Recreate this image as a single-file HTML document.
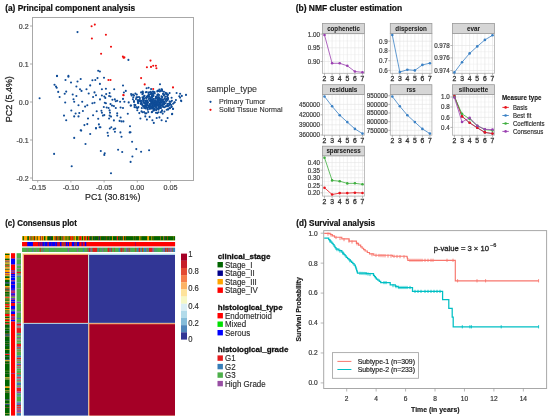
<!DOCTYPE html><html><head><meta charset="utf-8"><style>html,body{margin:0;padding:0;background:#fff;overflow:hidden}svg{display:block}text{font-family:"Liberation Sans",sans-serif}</style></head><body>
<svg width="550" height="418" viewBox="0 0 550 418" style="will-change:transform">
<rect width="550" height="418" fill="#fff"/>
<text x="5.2" y="10.9" font-size="9.0" fill="#111" text-anchor="start" font-weight="bold" textLength="130" lengthAdjust="spacingAndGlyphs" stroke="#111" stroke-width="0.22">(a) Principal component analysis</text>
<rect x="32.5" y="17.5" width="161" height="163" fill="#fff" stroke="#a8a8a8" stroke-width="1"/>
<line x1="30" y1="26.0" x2="32.5" y2="26.0" stroke="#999" stroke-width="0.8"/>
<text x="28.6" y="28.5" font-size="7" fill="#404040" text-anchor="end" stroke="#404040" stroke-width="0.18">0.2</text>
<line x1="30" y1="64.0" x2="32.5" y2="64.0" stroke="#999" stroke-width="0.8"/>
<text x="28.6" y="66.5" font-size="7" fill="#404040" text-anchor="end" stroke="#404040" stroke-width="0.18">0.1</text>
<line x1="30" y1="102.0" x2="32.5" y2="102.0" stroke="#999" stroke-width="0.8"/>
<text x="28.6" y="104.5" font-size="7" fill="#404040" text-anchor="end" stroke="#404040" stroke-width="0.18">0.0</text>
<line x1="30" y1="140.0" x2="32.5" y2="140.0" stroke="#999" stroke-width="0.8"/>
<text x="28.6" y="142.5" font-size="7" fill="#404040" text-anchor="end" stroke="#404040" stroke-width="0.18">-0.1</text>
<line x1="30" y1="178.0" x2="32.5" y2="178.0" stroke="#999" stroke-width="0.8"/>
<text x="28.6" y="180.5" font-size="7" fill="#404040" text-anchor="end" stroke="#404040" stroke-width="0.18">-0.2</text>
<line x1="37.7" y1="180.5" x2="37.7" y2="182.5" stroke="#999" stroke-width="0.8"/>
<text x="37.7" y="190.0" font-size="7.2" fill="#404040" text-anchor="middle" stroke="#404040" stroke-width="0.18">-0.15</text>
<line x1="70.9" y1="180.5" x2="70.9" y2="182.5" stroke="#999" stroke-width="0.8"/>
<text x="70.9" y="190.0" font-size="7.2" fill="#404040" text-anchor="middle" stroke="#404040" stroke-width="0.18">-0.10</text>
<line x1="104.1" y1="180.5" x2="104.1" y2="182.5" stroke="#999" stroke-width="0.8"/>
<text x="104.1" y="190.0" font-size="7.2" fill="#404040" text-anchor="middle" stroke="#404040" stroke-width="0.18">-0.05</text>
<line x1="137.3" y1="180.5" x2="137.3" y2="182.5" stroke="#999" stroke-width="0.8"/>
<text x="137.3" y="190.0" font-size="7.2" fill="#404040" text-anchor="middle" stroke="#404040" stroke-width="0.18">0.00</text>
<line x1="170.5" y1="180.5" x2="170.5" y2="182.5" stroke="#999" stroke-width="0.8"/>
<text x="170.5" y="190.0" font-size="7.2" fill="#404040" text-anchor="middle" stroke="#404040" stroke-width="0.18">0.05</text>
<text x="85" y="199.7" font-size="8.8" fill="#222" text-anchor="start" textLength="55.4" lengthAdjust="spacingAndGlyphs" stroke="#222" stroke-width="0.18">PC1 (30.81%)</text>
<text x="0" y="0" font-size="8.9" fill="#222" textLength="46" lengthAdjust="spacingAndGlyphs" stroke="#222" stroke-width="0.28" transform="translate(11.8 122.2) rotate(-90)">PC2 (5.4%)</text>
<text x="206.8" y="92.4" font-size="8.85" fill="#333" text-anchor="start" textLength="50.2" lengthAdjust="spacingAndGlyphs" stroke="#333" stroke-width="0.1">sample_type</text>
<text x="218.9" y="104.0" font-size="7.1" fill="#333" text-anchor="start" textLength="46.6" lengthAdjust="spacingAndGlyphs" stroke="#333" stroke-width="0.12">Primary Tumor</text>
<text x="218.9" y="111.7" font-size="7.1" fill="#333" text-anchor="start" textLength="63.7" lengthAdjust="spacingAndGlyphs" stroke="#333" stroke-width="0.12">Solid Tissue Normal</text>
<circle cx="210.5" cy="101.8" r="1.1" fill="#0f4c97"/>
<circle cx="210.5" cy="109.8" r="1.1" fill="#f00d0d"/>
<g fill="#0f4c97">
<circle cx="77.5" cy="32.1" r="1.05"/>
<circle cx="98.2" cy="70.8" r="1.05"/>
<circle cx="99.9" cy="71.5" r="1.05"/>
<circle cx="57.0" cy="75.9" r="1.05"/>
<circle cx="68.4" cy="75.9" r="1.05"/>
<circle cx="128.4" cy="59.9" r="1.05"/>
<circle cx="57.0" cy="76.1" r="1.05"/>
<circle cx="68.4" cy="76.7" r="1.05"/>
<circle cx="65.5" cy="80.0" r="1.05"/>
<circle cx="71.0" cy="82.5" r="1.05"/>
<circle cx="77.5" cy="81.5" r="1.05"/>
<circle cx="80.7" cy="79.0" r="1.05"/>
<circle cx="54.5" cy="84.8" r="1.05"/>
<circle cx="56.0" cy="86.5" r="1.05"/>
<circle cx="56.7" cy="87.7" r="1.05"/>
<circle cx="58.2" cy="91.9" r="1.05"/>
<circle cx="64.7" cy="93.8" r="1.05"/>
<circle cx="66.2" cy="91.6" r="1.05"/>
<circle cx="59.6" cy="97.0" r="1.05"/>
<circle cx="39.6" cy="98.2" r="1.05"/>
<circle cx="72.7" cy="94.5" r="1.05"/>
<circle cx="76.4" cy="86.5" r="1.05"/>
<circle cx="80.0" cy="89.2" r="1.05"/>
<circle cx="81.5" cy="90.9" r="1.05"/>
<circle cx="76.4" cy="96.0" r="1.05"/>
<circle cx="73.5" cy="99.3" r="1.05"/>
<circle cx="74.2" cy="101.8" r="1.05"/>
<circle cx="82.2" cy="101.8" r="1.05"/>
<circle cx="65.2" cy="102.5" r="1.05"/>
<circle cx="86.5" cy="89.2" r="1.05"/>
<circle cx="88.7" cy="93.5" r="1.05"/>
<circle cx="90.2" cy="85.4" r="1.05"/>
<circle cx="92.4" cy="80.3" r="1.05"/>
<circle cx="95.3" cy="80.0" r="1.05"/>
<circle cx="97.5" cy="78.1" r="1.05"/>
<circle cx="104.0" cy="77.8" r="1.05"/>
<circle cx="99.9" cy="83.9" r="1.05"/>
<circle cx="94.5" cy="92.4" r="1.05"/>
<circle cx="96.0" cy="95.3" r="1.05"/>
<circle cx="93.1" cy="97.0" r="1.05"/>
<circle cx="87.3" cy="105.2" r="1.05"/>
<circle cx="78.5" cy="105.2" r="1.05"/>
<circle cx="85.1" cy="106.6" r="1.05"/>
<circle cx="71.3" cy="110.5" r="1.05"/>
<circle cx="75.6" cy="113.5" r="1.05"/>
<circle cx="79.3" cy="113.0" r="1.05"/>
<circle cx="82.9" cy="111.0" r="1.05"/>
<circle cx="92.4" cy="103.3" r="1.05"/>
<circle cx="94.5" cy="102.8" r="1.05"/>
<circle cx="96.7" cy="111.3" r="1.05"/>
<circle cx="93.1" cy="115.3" r="1.05"/>
<circle cx="98.2" cy="118.8" r="1.05"/>
<circle cx="64.0" cy="115.6" r="1.05"/>
<circle cx="66.2" cy="120.3" r="1.05"/>
<circle cx="74.2" cy="116.4" r="1.05"/>
<circle cx="78.5" cy="116.4" r="1.05"/>
<circle cx="88.0" cy="118.5" r="1.05"/>
<circle cx="84.4" cy="125.1" r="1.05"/>
<circle cx="87.3" cy="124.1" r="1.05"/>
<circle cx="96.0" cy="128.0" r="1.05"/>
<circle cx="98.9" cy="124.4" r="1.05"/>
<circle cx="100.4" cy="127.3" r="1.05"/>
<circle cx="80.7" cy="130.2" r="1.05"/>
<circle cx="111.3" cy="127.3" r="1.05"/>
<circle cx="81.2" cy="130.6" r="1.05"/>
<circle cx="96.0" cy="128.5" r="1.05"/>
<circle cx="99.6" cy="127.3" r="1.05"/>
<circle cx="109.8" cy="128.5" r="1.05"/>
<circle cx="74.2" cy="137.9" r="1.05"/>
<circle cx="90.2" cy="134.0" r="1.05"/>
<circle cx="107.6" cy="132.8" r="1.05"/>
<circle cx="108.1" cy="135.7" r="1.05"/>
<circle cx="85.5" cy="144.0" r="1.05"/>
<circle cx="54.1" cy="153.9" r="1.05"/>
<circle cx="100.8" cy="151.0" r="1.05"/>
<circle cx="104.7" cy="153.2" r="1.05"/>
<circle cx="104.3" cy="154.9" r="1.05"/>
<circle cx="71.7" cy="166.3" r="1.05"/>
<circle cx="111.0" cy="173.3" r="1.05"/>
<circle cx="113.7" cy="129.2" r="1.05"/>
<circle cx="115.2" cy="128.5" r="1.05"/>
<circle cx="114.9" cy="131.8" r="1.05"/>
<circle cx="120.4" cy="132.4" r="1.05"/>
<circle cx="129.7" cy="132.4" r="1.05"/>
<circle cx="121.5" cy="136.7" r="1.05"/>
<circle cx="132.1" cy="141.8" r="1.05"/>
<circle cx="118.1" cy="149.8" r="1.05"/>
<circle cx="122.2" cy="152.0" r="1.05"/>
<circle cx="136.3" cy="149.1" r="1.05"/>
<circle cx="141.1" cy="151.7" r="1.05"/>
<circle cx="149.1" cy="150.3" r="1.05"/>
<circle cx="132.4" cy="156.5" r="1.05"/>
<circle cx="130.6" cy="161.9" r="1.05"/>
<circle cx="139.3" cy="113.1" r="1.05"/>
<circle cx="140.4" cy="118.5" r="1.05"/>
<circle cx="145.3" cy="116.4" r="1.05"/>
<circle cx="146.9" cy="119.6" r="1.05"/>
<circle cx="149.6" cy="116.9" r="1.05"/>
<circle cx="152.4" cy="120.2" r="1.05"/>
<circle cx="153.8" cy="122.9" r="1.05"/>
<circle cx="156.7" cy="118.0" r="1.05"/>
<circle cx="159.4" cy="117.4" r="1.05"/>
<circle cx="161.6" cy="120.2" r="1.05"/>
<circle cx="166.0" cy="121.3" r="1.05"/>
<circle cx="167.6" cy="118.0" r="1.05"/>
<circle cx="172.0" cy="114.2" r="1.05"/>
<circle cx="162.7" cy="113.6" r="1.05"/>
<circle cx="157.3" cy="113.1" r="1.05"/>
<circle cx="173.1" cy="108.7" r="1.05"/>
<circle cx="181.3" cy="101.1" r="1.05"/>
<circle cx="174.7" cy="102.2" r="1.05"/>
<circle cx="130.0" cy="126.2" r="1.05"/>
<circle cx="130.5" cy="132.2" r="1.05"/>
<circle cx="134.4" cy="104.9" r="1.05"/>
<circle cx="131.1" cy="105.5" r="1.05"/>
<circle cx="160.0" cy="84.2" r="1.05"/>
<circle cx="162.1" cy="90.9" r="1.05"/>
<circle cx="176.6" cy="93.0" r="1.05"/>
<circle cx="180.1" cy="93.8" r="1.05"/>
<circle cx="186.0" cy="94.9" r="1.05"/>
<circle cx="179.3" cy="96.3" r="1.05"/>
<circle cx="181.8" cy="95.9" r="1.05"/>
<circle cx="180.1" cy="97.6" r="1.05"/>
<circle cx="181.0" cy="100.5" r="1.05"/>
<circle cx="175.9" cy="100.1" r="1.05"/>
<circle cx="174.3" cy="102.6" r="1.05"/>
<circle cx="170.1" cy="103.8" r="1.05"/>
<circle cx="171.8" cy="106.8" r="1.05"/>
<circle cx="173.0" cy="108.9" r="1.05"/>
<circle cx="172.2" cy="113.9" r="1.05"/>
<circle cx="166.7" cy="109.7" r="1.05"/>
<circle cx="101.9" cy="89.3" r="1.05"/>
<circle cx="105.9" cy="88.8" r="1.05"/>
<circle cx="114.2" cy="89.3" r="1.05"/>
<circle cx="123.0" cy="85.5" r="1.05"/>
<circle cx="125.8" cy="90.9" r="1.05"/>
<circle cx="123.9" cy="92.5" r="1.05"/>
<circle cx="123.0" cy="98.9" r="1.05"/>
<circle cx="124.4" cy="101.7" r="1.05"/>
<circle cx="120.1" cy="101.7" r="1.05"/>
<circle cx="128.7" cy="102.4" r="1.05"/>
<circle cx="101.9" cy="95.5" r="1.05"/>
<circle cx="104.3" cy="96.5" r="1.05"/>
<circle cx="105.3" cy="97.9" r="1.05"/>
<circle cx="106.2" cy="94.1" r="1.05"/>
<circle cx="109.6" cy="93.1" r="1.05"/>
<circle cx="109.1" cy="96.0" r="1.05"/>
<circle cx="110.5" cy="96.5" r="1.05"/>
<circle cx="112.4" cy="99.8" r="1.05"/>
<circle cx="114.8" cy="99.4" r="1.05"/>
<circle cx="115.8" cy="101.3" r="1.05"/>
<circle cx="117.2" cy="100.8" r="1.05"/>
<circle cx="104.8" cy="102.7" r="1.05"/>
<circle cx="105.9" cy="103.2" r="1.05"/>
<circle cx="110.5" cy="104.1" r="1.05"/>
<circle cx="112.0" cy="105.6" r="1.05"/>
<circle cx="113.9" cy="106.1" r="1.05"/>
<circle cx="115.8" cy="108.0" r="1.05"/>
<circle cx="103.8" cy="107.0" r="1.05"/>
<circle cx="106.7" cy="107.5" r="1.05"/>
<circle cx="108.6" cy="108.0" r="1.05"/>
<circle cx="120.6" cy="107.5" r="1.05"/>
<circle cx="123.0" cy="108.0" r="1.05"/>
<circle cx="130.6" cy="105.6" r="1.05"/>
<circle cx="135.4" cy="105.1" r="1.05"/>
<circle cx="136.4" cy="107.5" r="1.05"/>
<circle cx="101.4" cy="110.8" r="1.05"/>
<circle cx="101.9" cy="112.8" r="1.05"/>
<circle cx="109.6" cy="110.4" r="1.05"/>
<circle cx="110.0" cy="112.8" r="1.05"/>
<circle cx="117.2" cy="113.2" r="1.05"/>
<circle cx="127.8" cy="113.7" r="1.05"/>
<circle cx="102.9" cy="115.6" r="1.05"/>
<circle cx="104.3" cy="115.1" r="1.05"/>
<circle cx="109.6" cy="115.6" r="1.05"/>
<circle cx="111.0" cy="116.6" r="1.05"/>
<circle cx="109.1" cy="118.5" r="1.05"/>
<circle cx="117.2" cy="115.6" r="1.05"/>
<circle cx="120.6" cy="117.5" r="1.05"/>
<circle cx="113.9" cy="120.4" r="1.05"/>
<circle cx="119.6" cy="120.9" r="1.05"/>
<circle cx="121.5" cy="121.4" r="1.05"/>
<circle cx="123.4" cy="121.4" r="1.05"/>
<circle cx="131.1" cy="94.1" r="1.05"/>
<circle cx="133.0" cy="94.6" r="1.05"/>
<circle cx="135.4" cy="93.6" r="1.05"/>
<circle cx="136.8" cy="94.6" r="1.05"/>
<circle cx="131.6" cy="95.5" r="1.05"/>
<circle cx="100.0" cy="99.4" r="1.05"/>
<circle cx="150.4" cy="105.0" r="1.05"/>
<circle cx="150.7" cy="99.4" r="1.05"/>
<circle cx="143.7" cy="100.0" r="1.05"/>
<circle cx="164.1" cy="104.4" r="1.05"/>
<circle cx="163.4" cy="103.2" r="1.05"/>
<circle cx="156.9" cy="102.8" r="1.05"/>
<circle cx="136.3" cy="107.3" r="1.05"/>
<circle cx="158.1" cy="104.9" r="1.05"/>
<circle cx="144.1" cy="98.3" r="1.05"/>
<circle cx="156.1" cy="101.2" r="1.05"/>
<circle cx="158.2" cy="97.1" r="1.05"/>
<circle cx="156.1" cy="104.2" r="1.05"/>
<circle cx="146.4" cy="113.2" r="1.05"/>
<circle cx="158.6" cy="109.6" r="1.05"/>
<circle cx="146.8" cy="96.5" r="1.05"/>
<circle cx="149.6" cy="100.8" r="1.05"/>
<circle cx="159.3" cy="103.2" r="1.05"/>
<circle cx="148.5" cy="95.0" r="1.05"/>
<circle cx="147.8" cy="109.8" r="1.05"/>
<circle cx="144.9" cy="103.2" r="1.05"/>
<circle cx="157.3" cy="91.4" r="1.05"/>
<circle cx="153.5" cy="110.4" r="1.05"/>
<circle cx="132.9" cy="99.3" r="1.05"/>
<circle cx="151.9" cy="95.9" r="1.05"/>
<circle cx="158.0" cy="101.1" r="1.05"/>
<circle cx="138.4" cy="107.1" r="1.05"/>
<circle cx="159.7" cy="107.9" r="1.05"/>
<circle cx="167.4" cy="104.0" r="1.05"/>
<circle cx="154.2" cy="92.7" r="1.05"/>
<circle cx="159.2" cy="97.3" r="1.05"/>
<circle cx="148.5" cy="92.9" r="1.05"/>
<circle cx="143.3" cy="97.9" r="1.05"/>
<circle cx="138.4" cy="103.1" r="1.05"/>
<circle cx="167.4" cy="105.4" r="1.05"/>
<circle cx="156.6" cy="96.5" r="1.05"/>
<circle cx="141.8" cy="108.1" r="1.05"/>
<circle cx="164.0" cy="102.6" r="1.05"/>
<circle cx="155.5" cy="104.5" r="1.05"/>
<circle cx="168.9" cy="105.7" r="1.05"/>
<circle cx="158.2" cy="105.2" r="1.05"/>
<circle cx="137.3" cy="110.2" r="1.05"/>
<circle cx="162.6" cy="105.1" r="1.05"/>
<circle cx="133.3" cy="97.2" r="1.05"/>
<circle cx="161.4" cy="89.2" r="1.05"/>
<circle cx="151.2" cy="108.4" r="1.05"/>
<circle cx="158.5" cy="100.5" r="1.05"/>
<circle cx="156.2" cy="105.9" r="1.05"/>
<circle cx="154.2" cy="109.3" r="1.05"/>
<circle cx="146.4" cy="98.7" r="1.05"/>
<circle cx="163.4" cy="101.7" r="1.05"/>
<circle cx="144.2" cy="107.9" r="1.05"/>
<circle cx="167.7" cy="98.5" r="1.05"/>
<circle cx="139.2" cy="100.6" r="1.05"/>
<circle cx="151.5" cy="99.5" r="1.05"/>
<circle cx="167.0" cy="94.5" r="1.05"/>
<circle cx="165.6" cy="92.9" r="1.05"/>
<circle cx="145.1" cy="105.8" r="1.05"/>
<circle cx="164.3" cy="107.3" r="1.05"/>
<circle cx="156.5" cy="102.5" r="1.05"/>
<circle cx="154.5" cy="105.4" r="1.05"/>
<circle cx="151.2" cy="103.4" r="1.05"/>
<circle cx="158.7" cy="101.5" r="1.05"/>
<circle cx="160.6" cy="105.3" r="1.05"/>
<circle cx="173.1" cy="103.7" r="1.05"/>
<circle cx="148.7" cy="99.0" r="1.05"/>
<circle cx="152.9" cy="107.8" r="1.05"/>
<circle cx="149.6" cy="104.1" r="1.05"/>
<circle cx="141.8" cy="103.2" r="1.05"/>
<circle cx="157.0" cy="103.1" r="1.05"/>
<circle cx="148.7" cy="106.0" r="1.05"/>
<circle cx="155.8" cy="98.0" r="1.05"/>
<circle cx="147.5" cy="100.8" r="1.05"/>
<circle cx="150.7" cy="101.1" r="1.05"/>
<circle cx="163.1" cy="93.6" r="1.05"/>
<circle cx="152.3" cy="108.0" r="1.05"/>
<circle cx="161.6" cy="111.6" r="1.05"/>
<circle cx="136.0" cy="99.1" r="1.05"/>
<circle cx="149.6" cy="105.7" r="1.05"/>
<circle cx="163.9" cy="91.7" r="1.05"/>
<circle cx="159.8" cy="91.4" r="1.05"/>
<circle cx="154.8" cy="109.6" r="1.05"/>
<circle cx="151.5" cy="102.8" r="1.05"/>
<circle cx="161.0" cy="102.5" r="1.05"/>
<circle cx="152.1" cy="111.9" r="1.05"/>
<circle cx="163.5" cy="99.5" r="1.05"/>
<circle cx="162.1" cy="99.7" r="1.05"/>
<circle cx="154.3" cy="106.3" r="1.05"/>
<circle cx="155.2" cy="105.8" r="1.05"/>
<circle cx="159.1" cy="95.0" r="1.05"/>
<circle cx="142.7" cy="91.5" r="1.05"/>
<circle cx="165.7" cy="106.6" r="1.05"/>
<circle cx="167.7" cy="95.1" r="1.05"/>
<circle cx="153.0" cy="93.7" r="1.05"/>
<circle cx="160.7" cy="112.3" r="1.05"/>
<circle cx="144.1" cy="112.1" r="1.05"/>
<circle cx="162.9" cy="100.3" r="1.05"/>
<circle cx="152.0" cy="97.4" r="1.05"/>
<circle cx="157.0" cy="104.3" r="1.05"/>
<circle cx="168.0" cy="94.6" r="1.05"/>
<circle cx="164.4" cy="111.6" r="1.05"/>
<circle cx="167.5" cy="100.3" r="1.05"/>
<circle cx="145.6" cy="108.4" r="1.05"/>
<circle cx="154.2" cy="102.3" r="1.05"/>
<circle cx="167.2" cy="99.7" r="1.05"/>
<circle cx="134.5" cy="107.1" r="1.05"/>
<circle cx="156.2" cy="97.3" r="1.05"/>
<circle cx="152.9" cy="107.2" r="1.05"/>
<circle cx="153.8" cy="110.5" r="1.05"/>
<circle cx="152.4" cy="108.6" r="1.05"/>
<circle cx="146.3" cy="107.5" r="1.05"/>
<circle cx="140.7" cy="101.4" r="1.05"/>
<circle cx="151.1" cy="101.3" r="1.05"/>
<circle cx="147.1" cy="103.1" r="1.05"/>
<circle cx="170.9" cy="101.8" r="1.05"/>
<circle cx="158.3" cy="108.3" r="1.05"/>
<circle cx="151.0" cy="92.9" r="1.05"/>
<circle cx="147.4" cy="108.8" r="1.05"/>
<circle cx="136.5" cy="97.4" r="1.05"/>
<circle cx="163.1" cy="106.9" r="1.05"/>
<circle cx="153.1" cy="107.0" r="1.05"/>
<circle cx="154.7" cy="93.5" r="1.05"/>
<circle cx="137.4" cy="97.2" r="1.05"/>
<circle cx="162.2" cy="97.7" r="1.05"/>
<circle cx="144.0" cy="96.3" r="1.05"/>
<circle cx="137.7" cy="100.7" r="1.05"/>
<circle cx="141.2" cy="104.0" r="1.05"/>
<circle cx="146.6" cy="88.3" r="1.05"/>
<circle cx="160.2" cy="99.6" r="1.05"/>
<circle cx="155.9" cy="98.4" r="1.05"/>
<circle cx="160.8" cy="106.6" r="1.05"/>
<circle cx="159.7" cy="103.7" r="1.05"/>
<circle cx="166.3" cy="106.0" r="1.05"/>
<circle cx="162.0" cy="110.4" r="1.05"/>
<circle cx="150.0" cy="98.3" r="1.05"/>
<circle cx="143.7" cy="106.2" r="1.05"/>
<circle cx="171.9" cy="100.7" r="1.05"/>
<circle cx="158.6" cy="107.6" r="1.05"/>
<circle cx="143.9" cy="100.9" r="1.05"/>
<circle cx="155.9" cy="107.1" r="1.05"/>
<circle cx="152.7" cy="100.2" r="1.05"/>
<circle cx="142.8" cy="99.1" r="1.05"/>
<circle cx="161.9" cy="102.2" r="1.05"/>
<circle cx="144.5" cy="95.8" r="1.05"/>
<circle cx="159.2" cy="104.8" r="1.05"/>
<circle cx="169.8" cy="104.4" r="1.05"/>
<circle cx="152.3" cy="105.1" r="1.05"/>
<circle cx="156.2" cy="96.7" r="1.05"/>
<circle cx="139.0" cy="97.0" r="1.05"/>
<circle cx="155.9" cy="102.7" r="1.05"/>
<circle cx="149.0" cy="94.9" r="1.05"/>
<circle cx="141.1" cy="92.4" r="1.05"/>
<circle cx="170.0" cy="108.2" r="1.05"/>
<circle cx="171.2" cy="107.0" r="1.05"/>
<circle cx="144.3" cy="103.3" r="1.05"/>
<circle cx="152.4" cy="105.1" r="1.05"/>
<circle cx="145.7" cy="100.7" r="1.05"/>
<circle cx="157.6" cy="104.1" r="1.05"/>
<circle cx="159.4" cy="102.9" r="1.05"/>
<circle cx="149.8" cy="106.9" r="1.05"/>
<circle cx="153.5" cy="95.9" r="1.05"/>
<circle cx="146.7" cy="101.5" r="1.05"/>
<circle cx="151.9" cy="102.6" r="1.05"/>
<circle cx="153.0" cy="102.7" r="1.05"/>
<circle cx="151.7" cy="92.9" r="1.05"/>
<circle cx="157.2" cy="108.7" r="1.05"/>
<circle cx="157.3" cy="100.2" r="1.05"/>
<circle cx="157.5" cy="94.9" r="1.05"/>
<circle cx="134.0" cy="101.9" r="1.05"/>
<circle cx="143.7" cy="106.5" r="1.05"/>
<circle cx="142.6" cy="112.2" r="1.05"/>
<circle cx="149.2" cy="92.2" r="1.05"/>
<circle cx="145.4" cy="105.0" r="1.05"/>
<circle cx="158.0" cy="102.7" r="1.05"/>
<circle cx="167.8" cy="106.3" r="1.05"/>
<circle cx="152.8" cy="105.6" r="1.05"/>
<circle cx="169.5" cy="108.1" r="1.05"/>
<circle cx="163.2" cy="94.1" r="1.05"/>
<circle cx="151.5" cy="106.5" r="1.05"/>
<circle cx="150.0" cy="108.8" r="1.05"/>
<circle cx="159.0" cy="107.7" r="1.05"/>
<circle cx="165.4" cy="100.0" r="1.05"/>
<circle cx="149.6" cy="107.4" r="1.05"/>
<circle cx="162.8" cy="101.5" r="1.05"/>
<circle cx="141.3" cy="102.8" r="1.05"/>
<circle cx="156.6" cy="109.2" r="1.05"/>
<circle cx="160.8" cy="101.7" r="1.05"/>
<circle cx="161.5" cy="105.2" r="1.05"/>
<circle cx="155.1" cy="101.9" r="1.05"/>
<circle cx="150.6" cy="106.2" r="1.05"/>
<circle cx="142.5" cy="97.2" r="1.05"/>
<circle cx="153.0" cy="91.5" r="1.05"/>
<circle cx="148.6" cy="87.8" r="1.05"/>
<circle cx="146.2" cy="105.4" r="1.05"/>
<circle cx="158.7" cy="101.1" r="1.05"/>
<circle cx="150.7" cy="91.9" r="1.05"/>
<circle cx="171.3" cy="105.0" r="1.05"/>
<circle cx="163.9" cy="95.5" r="1.05"/>
<circle cx="151.1" cy="89.1" r="1.05"/>
<circle cx="160.8" cy="107.9" r="1.05"/>
<circle cx="134.0" cy="101.1" r="1.05"/>
<circle cx="159.3" cy="89.5" r="1.05"/>
<circle cx="146.7" cy="92.0" r="1.05"/>
<circle cx="153.3" cy="103.2" r="1.05"/>
<circle cx="159.3" cy="106.3" r="1.05"/>
<circle cx="168.0" cy="109.4" r="1.05"/>
<circle cx="139.9" cy="98.1" r="1.05"/>
<circle cx="142.4" cy="94.2" r="1.05"/>
<circle cx="152.2" cy="101.5" r="1.05"/>
<circle cx="157.9" cy="90.7" r="1.05"/>
<circle cx="140.6" cy="101.3" r="1.05"/>
<circle cx="151.0" cy="99.4" r="1.05"/>
<circle cx="152.4" cy="96.3" r="1.05"/>
<circle cx="160.0" cy="103.9" r="1.05"/>
<circle cx="152.1" cy="96.9" r="1.05"/>
<circle cx="143.2" cy="101.8" r="1.05"/>
<circle cx="138.0" cy="102.9" r="1.05"/>
<circle cx="154.5" cy="92.1" r="1.05"/>
<circle cx="150.5" cy="99.4" r="1.05"/>
<circle cx="157.6" cy="105.7" r="1.05"/>
<circle cx="152.6" cy="95.7" r="1.05"/>
<circle cx="151.6" cy="101.1" r="1.05"/>
<circle cx="160.3" cy="103.5" r="1.05"/>
<circle cx="145.8" cy="92.3" r="1.05"/>
<circle cx="149.3" cy="96.5" r="1.05"/>
<circle cx="141.9" cy="100.7" r="1.05"/>
<circle cx="148.1" cy="102.2" r="1.05"/>
<circle cx="158.2" cy="98.7" r="1.05"/>
<circle cx="164.0" cy="102.3" r="1.05"/>
<circle cx="145.5" cy="103.2" r="1.05"/>
<circle cx="156.2" cy="110.2" r="1.05"/>
<circle cx="160.7" cy="107.9" r="1.05"/>
<circle cx="158.1" cy="100.4" r="1.05"/>
<circle cx="158.1" cy="94.2" r="1.05"/>
<circle cx="164.8" cy="94.6" r="1.05"/>
<circle cx="150.8" cy="101.6" r="1.05"/>
<circle cx="164.6" cy="101.7" r="1.05"/>
<circle cx="144.9" cy="103.3" r="1.05"/>
<circle cx="158.8" cy="106.3" r="1.05"/>
<circle cx="145.3" cy="113.4" r="1.05"/>
<circle cx="169.7" cy="101.6" r="1.05"/>
<circle cx="155.7" cy="98.6" r="1.05"/>
<circle cx="167.1" cy="96.7" r="1.05"/>
<circle cx="159.7" cy="98.2" r="1.05"/>
<circle cx="146.1" cy="106.4" r="1.05"/>
<circle cx="166.3" cy="101.4" r="1.05"/>
<circle cx="146.2" cy="107.0" r="1.05"/>
<circle cx="152.5" cy="103.6" r="1.05"/>
<circle cx="168.2" cy="109.2" r="1.05"/>
<circle cx="153.0" cy="106.8" r="1.05"/>
<circle cx="146.5" cy="101.2" r="1.05"/>
<circle cx="166.7" cy="93.2" r="1.05"/>
<circle cx="164.8" cy="98.4" r="1.05"/>
<circle cx="152.4" cy="99.4" r="1.05"/>
<circle cx="151.8" cy="94.1" r="1.05"/>
<circle cx="153.2" cy="91.7" r="1.05"/>
<circle cx="152.3" cy="103.6" r="1.05"/>
<circle cx="157.7" cy="99.9" r="1.05"/>
<circle cx="144.0" cy="102.6" r="1.05"/>
<circle cx="148.2" cy="112.1" r="1.05"/>
<circle cx="160.7" cy="100.7" r="1.05"/>
<circle cx="148.3" cy="96.7" r="1.05"/>
<circle cx="143.6" cy="99.1" r="1.05"/>
<circle cx="155.9" cy="105.0" r="1.05"/>
<circle cx="146.0" cy="101.6" r="1.05"/>
<circle cx="147.8" cy="102.7" r="1.05"/>
<circle cx="154.5" cy="104.3" r="1.05"/>
<circle cx="150.6" cy="104.0" r="1.05"/>
<circle cx="153.5" cy="106.7" r="1.05"/>
<circle cx="134.1" cy="95.5" r="1.05"/>
<circle cx="153.0" cy="94.5" r="1.05"/>
<circle cx="142.6" cy="105.8" r="1.05"/>
<circle cx="146.5" cy="105.8" r="1.05"/>
<circle cx="160.5" cy="103.6" r="1.05"/>
<circle cx="158.1" cy="100.8" r="1.05"/>
<circle cx="138.9" cy="101.3" r="1.05"/>
<circle cx="157.5" cy="97.9" r="1.05"/>
<circle cx="152.0" cy="106.6" r="1.05"/>
<circle cx="144.2" cy="105.9" r="1.05"/>
<circle cx="171.6" cy="97.7" r="1.05"/>
<circle cx="154.5" cy="100.5" r="1.05"/>
<circle cx="168.4" cy="103.7" r="1.05"/>
<circle cx="162.0" cy="96.8" r="1.05"/>
<circle cx="152.8" cy="101.4" r="1.05"/>
<circle cx="162.0" cy="89.6" r="1.05"/>
<circle cx="160.4" cy="100.6" r="1.05"/>
<circle cx="157.5" cy="104.0" r="1.05"/>
<circle cx="138.0" cy="100.1" r="1.05"/>
<circle cx="167.9" cy="97.6" r="1.05"/>
<circle cx="142.8" cy="92.3" r="1.05"/>
<circle cx="140.8" cy="103.8" r="1.05"/>
<circle cx="169.9" cy="104.4" r="1.05"/>
<circle cx="147.8" cy="96.9" r="1.05"/>
<circle cx="158.3" cy="105.2" r="1.05"/>
<circle cx="142.9" cy="93.5" r="1.05"/>
<circle cx="155.9" cy="103.2" r="1.05"/>
<circle cx="139.9" cy="100.1" r="1.05"/>
<circle cx="147.6" cy="104.6" r="1.05"/>
<circle cx="151.8" cy="100.9" r="1.05"/>
<circle cx="149.5" cy="108.7" r="1.05"/>
<circle cx="166.9" cy="99.0" r="1.05"/>
<circle cx="161.5" cy="96.3" r="1.05"/>
<circle cx="153.7" cy="106.6" r="1.05"/>
<circle cx="168.1" cy="98.9" r="1.05"/>
<circle cx="152.3" cy="102.8" r="1.05"/>
<circle cx="138.0" cy="101.6" r="1.05"/>
<circle cx="146.2" cy="104.0" r="1.05"/>
<circle cx="153.4" cy="103.3" r="1.05"/>
<circle cx="147.5" cy="107.5" r="1.05"/>
<circle cx="150.3" cy="97.4" r="1.05"/>
<circle cx="157.8" cy="90.8" r="1.05"/>
<circle cx="146.2" cy="101.4" r="1.05"/>
<circle cx="161.5" cy="100.4" r="1.05"/>
<circle cx="156.1" cy="97.0" r="1.05"/>
<circle cx="156.0" cy="112.8" r="1.05"/>
<circle cx="146.6" cy="101.6" r="1.05"/>
<circle cx="154.7" cy="108.5" r="1.05"/>
<circle cx="159.1" cy="106.9" r="1.05"/>
<circle cx="155.0" cy="103.2" r="1.05"/>
<circle cx="162.3" cy="104.0" r="1.05"/>
<circle cx="169.6" cy="93.1" r="1.05"/>
<circle cx="161.1" cy="99.0" r="1.05"/>
<circle cx="152.9" cy="99.8" r="1.05"/>
<circle cx="148.0" cy="95.8" r="1.05"/>
<circle cx="146.7" cy="105.8" r="1.05"/>
<circle cx="153.4" cy="102.0" r="1.05"/>
<circle cx="151.3" cy="107.7" r="1.05"/>
<circle cx="157.9" cy="100.5" r="1.05"/>
<circle cx="159.6" cy="100.5" r="1.05"/>
<circle cx="141.5" cy="111.4" r="1.05"/>
<circle cx="157.7" cy="95.0" r="1.05"/>
<circle cx="163.8" cy="103.8" r="1.05"/>
<circle cx="156.3" cy="107.6" r="1.05"/>
<circle cx="155.0" cy="100.5" r="1.05"/>
<circle cx="137.5" cy="108.1" r="1.05"/>
<circle cx="153.3" cy="99.6" r="1.05"/>
<circle cx="156.5" cy="102.0" r="1.05"/>
<circle cx="159.8" cy="99.0" r="1.05"/>
<circle cx="148.8" cy="106.1" r="1.05"/>
<circle cx="166.4" cy="99.0" r="1.05"/>
<circle cx="151.8" cy="112.3" r="1.05"/>
<circle cx="149.7" cy="106.5" r="1.05"/>
<circle cx="169.8" cy="101.8" r="1.05"/>
<circle cx="165.3" cy="96.7" r="1.05"/>
<circle cx="155.1" cy="101.0" r="1.05"/>
<circle cx="154.1" cy="109.2" r="1.05"/>
<circle cx="147.2" cy="104.9" r="1.05"/>
<circle cx="142.4" cy="104.9" r="1.05"/>
<circle cx="158.7" cy="99.6" r="1.05"/>
<circle cx="158.3" cy="91.0" r="1.05"/>
<circle cx="160.6" cy="91.0" r="1.05"/>
<circle cx="146.0" cy="97.7" r="1.05"/>
<circle cx="149.0" cy="107.3" r="1.05"/>
<circle cx="153.8" cy="98.8" r="1.05"/>
<circle cx="158.4" cy="112.3" r="1.05"/>
<circle cx="153.1" cy="104.0" r="1.05"/>
<circle cx="165.4" cy="103.3" r="1.05"/>
<circle cx="152.6" cy="104.3" r="1.05"/>
<circle cx="162.7" cy="106.0" r="1.05"/>
<circle cx="150.3" cy="94.3" r="1.05"/>
<circle cx="154.0" cy="108.5" r="1.05"/>
</g>
<g fill="#f00d0d">
<circle cx="91.6" cy="26.2" r="1.05"/>
<circle cx="94.8" cy="24.6" r="1.05"/>
<circle cx="91.9" cy="38.5" r="1.05"/>
<circle cx="105.9" cy="34.7" r="1.05"/>
<circle cx="111.0" cy="46.8" r="1.05"/>
<circle cx="101.1" cy="53.7" r="1.05"/>
<circle cx="122.9" cy="56.6" r="1.05"/>
<circle cx="124.4" cy="57.4" r="1.05"/>
<circle cx="123.6" cy="57.7" r="1.05"/>
<circle cx="150.5" cy="60.6" r="1.05"/>
<circle cx="146.9" cy="67.2" r="1.05"/>
<circle cx="151.0" cy="66.9" r="1.05"/>
<circle cx="153.2" cy="65.7" r="1.05"/>
<circle cx="155.9" cy="65.7" r="1.05"/>
<circle cx="156.4" cy="68.2" r="1.05"/>
<circle cx="108.4" cy="80.0" r="1.05"/>
<circle cx="110.5" cy="80.0" r="1.05"/>
<circle cx="173.0" cy="87.4" r="1.05"/>
<circle cx="153.2" cy="89.0" r="1.05"/>
<circle cx="141.1" cy="78.1" r="1.05"/>
<circle cx="123.6" cy="95.3" r="1.05"/>
<circle cx="144.7" cy="84.4" r="1.05"/>
<circle cx="123.3" cy="95.0" r="1.05"/>
</g>
<text x="295.7" y="10.8" font-size="9.0" fill="#111" text-anchor="start" font-weight="bold" textLength="106.4" lengthAdjust="spacingAndGlyphs" stroke="#111" stroke-width="0.22">(b) NMF cluster estimation</text>
<rect x="322.5" y="33.5" width="42.0" height="39.8" fill="#fff"/>
<line x1="328.30" y1="33.5" x2="328.30" y2="73.3" stroke="#ececec" stroke-width="0.5"/>
<line x1="335.90" y1="33.5" x2="335.90" y2="73.3" stroke="#ececec" stroke-width="0.5"/>
<line x1="343.50" y1="33.5" x2="343.50" y2="73.3" stroke="#ececec" stroke-width="0.5"/>
<line x1="351.10" y1="33.5" x2="351.10" y2="73.3" stroke="#ececec" stroke-width="0.5"/>
<line x1="358.70" y1="33.5" x2="358.70" y2="73.3" stroke="#ececec" stroke-width="0.5"/>
<line x1="322.5" y1="40.95" x2="364.5" y2="40.95" stroke="#ececec" stroke-width="0.5"/>
<line x1="322.5" y1="54.65" x2="364.5" y2="54.65" stroke="#ececec" stroke-width="0.5"/>
<line x1="324.50" y1="33.5" x2="324.50" y2="73.3" stroke="#e2e2e2" stroke-width="0.6"/>
<line x1="332.10" y1="33.5" x2="332.10" y2="73.3" stroke="#e2e2e2" stroke-width="0.6"/>
<line x1="339.70" y1="33.5" x2="339.70" y2="73.3" stroke="#e2e2e2" stroke-width="0.6"/>
<line x1="347.30" y1="33.5" x2="347.30" y2="73.3" stroke="#e2e2e2" stroke-width="0.6"/>
<line x1="354.90" y1="33.5" x2="354.90" y2="73.3" stroke="#e2e2e2" stroke-width="0.6"/>
<line x1="362.50" y1="33.5" x2="362.50" y2="73.3" stroke="#e2e2e2" stroke-width="0.6"/>
<line x1="322.5" y1="34.1" x2="364.5" y2="34.1" stroke="#e2e2e2" stroke-width="0.6"/>
<line x1="322.5" y1="47.8" x2="364.5" y2="47.8" stroke="#e2e2e2" stroke-width="0.6"/>
<line x1="322.5" y1="61.5" x2="364.5" y2="61.5" stroke="#e2e2e2" stroke-width="0.6"/>
<rect x="322.5" y="33.5" width="42.0" height="39.8" fill="none" stroke="#b0b0b0" stroke-width="0.8"/>
<rect x="322.5" y="23.5" width="42.0" height="10.0" fill="#d6d6d6" stroke="#9a9a9a" stroke-width="0.8"/>
<text x="343.5" y="30.8" font-size="6.9" fill="#1a1a1a" text-anchor="middle" font-weight="bold" textLength="32.7" lengthAdjust="spacingAndGlyphs" stroke="#1a1a1a" stroke-width="0.05">cophenetic</text>
<line x1="320.5" y1="34.1" x2="322.5" y2="34.1" stroke="#999" stroke-width="0.7"/>
<text x="319.9" y="36.5" font-size="6.9" fill="#404040" text-anchor="end" textLength="12.16" lengthAdjust="spacingAndGlyphs" stroke="#404040" stroke-width="0.22">1.00</text>
<line x1="320.5" y1="47.8" x2="322.5" y2="47.8" stroke="#999" stroke-width="0.7"/>
<text x="319.9" y="50.199999999999996" font-size="6.9" fill="#404040" text-anchor="end" textLength="12.16" lengthAdjust="spacingAndGlyphs" stroke="#404040" stroke-width="0.22">0.95</text>
<line x1="320.5" y1="61.5" x2="322.5" y2="61.5" stroke="#999" stroke-width="0.7"/>
<text x="319.9" y="63.9" font-size="6.9" fill="#404040" text-anchor="end" textLength="12.16" lengthAdjust="spacingAndGlyphs" stroke="#404040" stroke-width="0.22">0.90</text>
<line x1="324.50" y1="73.3" x2="324.50" y2="75.3" stroke="#999" stroke-width="0.7"/>
<text x="324.50" y="81.2" font-size="6.8" fill="#383838" text-anchor="middle" stroke="#383838" stroke-width="0.32">2</text>
<line x1="332.10" y1="73.3" x2="332.10" y2="75.3" stroke="#999" stroke-width="0.7"/>
<text x="332.10" y="81.2" font-size="6.8" fill="#383838" text-anchor="middle" stroke="#383838" stroke-width="0.32">3</text>
<line x1="339.70" y1="73.3" x2="339.70" y2="75.3" stroke="#999" stroke-width="0.7"/>
<text x="339.70" y="81.2" font-size="6.8" fill="#383838" text-anchor="middle" stroke="#383838" stroke-width="0.32">4</text>
<line x1="347.30" y1="73.3" x2="347.30" y2="75.3" stroke="#999" stroke-width="0.7"/>
<text x="347.30" y="81.2" font-size="6.8" fill="#383838" text-anchor="middle" stroke="#383838" stroke-width="0.32">5</text>
<line x1="354.90" y1="73.3" x2="354.90" y2="75.3" stroke="#999" stroke-width="0.7"/>
<text x="354.90" y="81.2" font-size="6.8" fill="#383838" text-anchor="middle" stroke="#383838" stroke-width="0.32">6</text>
<line x1="362.50" y1="73.3" x2="362.50" y2="75.3" stroke="#999" stroke-width="0.7"/>
<text x="362.50" y="81.2" font-size="6.8" fill="#383838" text-anchor="middle" stroke="#383838" stroke-width="0.32">7</text>
<polyline points="324.50,35 332.10,63.3 339.70,63.3 347.30,65.8 354.90,71.5 362.50,72.3" fill="none" stroke="#9a3fb0" stroke-width="0.8"/>
<circle cx="324.50" cy="35" r="1.3" fill="#9a3fb0"/>
<circle cx="332.10" cy="63.3" r="1.3" fill="#9a3fb0"/>
<circle cx="339.70" cy="63.3" r="1.3" fill="#9a3fb0"/>
<circle cx="347.30" cy="65.8" r="1.3" fill="#9a3fb0"/>
<circle cx="354.90" cy="71.5" r="1.3" fill="#9a3fb0"/>
<circle cx="362.50" cy="72.3" r="1.3" fill="#9a3fb0"/>
<rect x="390.3" y="33.5" width="41.599999999999966" height="39.8" fill="#fff"/>
<line x1="396.06" y1="33.5" x2="396.06" y2="73.3" stroke="#ececec" stroke-width="0.5"/>
<line x1="403.58" y1="33.5" x2="403.58" y2="73.3" stroke="#ececec" stroke-width="0.5"/>
<line x1="411.10" y1="33.5" x2="411.10" y2="73.3" stroke="#ececec" stroke-width="0.5"/>
<line x1="418.62" y1="33.5" x2="418.62" y2="73.3" stroke="#ececec" stroke-width="0.5"/>
<line x1="426.14" y1="33.5" x2="426.14" y2="73.3" stroke="#ececec" stroke-width="0.5"/>
<line x1="390.3" y1="46.00" x2="431.9" y2="46.00" stroke="#ececec" stroke-width="0.5"/>
<line x1="390.3" y1="55.75" x2="431.9" y2="55.75" stroke="#ececec" stroke-width="0.5"/>
<line x1="390.3" y1="65.55" x2="431.9" y2="65.55" stroke="#ececec" stroke-width="0.5"/>
<line x1="392.30" y1="33.5" x2="392.30" y2="73.3" stroke="#e2e2e2" stroke-width="0.6"/>
<line x1="399.82" y1="33.5" x2="399.82" y2="73.3" stroke="#e2e2e2" stroke-width="0.6"/>
<line x1="407.34" y1="33.5" x2="407.34" y2="73.3" stroke="#e2e2e2" stroke-width="0.6"/>
<line x1="414.86" y1="33.5" x2="414.86" y2="73.3" stroke="#e2e2e2" stroke-width="0.6"/>
<line x1="422.38" y1="33.5" x2="422.38" y2="73.3" stroke="#e2e2e2" stroke-width="0.6"/>
<line x1="429.90" y1="33.5" x2="429.90" y2="73.3" stroke="#e2e2e2" stroke-width="0.6"/>
<line x1="390.3" y1="41.2" x2="431.9" y2="41.2" stroke="#e2e2e2" stroke-width="0.6"/>
<line x1="390.3" y1="50.8" x2="431.9" y2="50.8" stroke="#e2e2e2" stroke-width="0.6"/>
<line x1="390.3" y1="60.7" x2="431.9" y2="60.7" stroke="#e2e2e2" stroke-width="0.6"/>
<line x1="390.3" y1="70.4" x2="431.9" y2="70.4" stroke="#e2e2e2" stroke-width="0.6"/>
<rect x="390.3" y="33.5" width="41.599999999999966" height="39.8" fill="none" stroke="#b0b0b0" stroke-width="0.8"/>
<rect x="390.3" y="23.5" width="41.599999999999966" height="10.0" fill="#d6d6d6" stroke="#9a9a9a" stroke-width="0.8"/>
<text x="411.1" y="30.8" font-size="6.9" fill="#1a1a1a" text-anchor="middle" font-weight="bold" textLength="31.5" lengthAdjust="spacingAndGlyphs" stroke="#1a1a1a" stroke-width="0.05">dispersion</text>
<line x1="388.3" y1="41.2" x2="390.3" y2="41.2" stroke="#999" stroke-width="0.7"/>
<text x="387.7" y="43.6" font-size="6.9" fill="#404040" text-anchor="end" textLength="8.69" lengthAdjust="spacingAndGlyphs" stroke="#404040" stroke-width="0.22">0.9</text>
<line x1="388.3" y1="50.8" x2="390.3" y2="50.8" stroke="#999" stroke-width="0.7"/>
<text x="387.7" y="53.199999999999996" font-size="6.9" fill="#404040" text-anchor="end" textLength="8.69" lengthAdjust="spacingAndGlyphs" stroke="#404040" stroke-width="0.22">0.8</text>
<line x1="388.3" y1="60.7" x2="390.3" y2="60.7" stroke="#999" stroke-width="0.7"/>
<text x="387.7" y="63.1" font-size="6.9" fill="#404040" text-anchor="end" textLength="8.69" lengthAdjust="spacingAndGlyphs" stroke="#404040" stroke-width="0.22">0.7</text>
<line x1="388.3" y1="70.4" x2="390.3" y2="70.4" stroke="#999" stroke-width="0.7"/>
<text x="387.7" y="72.80000000000001" font-size="6.9" fill="#404040" text-anchor="end" textLength="8.69" lengthAdjust="spacingAndGlyphs" stroke="#404040" stroke-width="0.22">0.6</text>
<line x1="392.30" y1="73.3" x2="392.30" y2="75.3" stroke="#999" stroke-width="0.7"/>
<text x="392.30" y="81.2" font-size="6.8" fill="#383838" text-anchor="middle" stroke="#383838" stroke-width="0.32">2</text>
<line x1="399.82" y1="73.3" x2="399.82" y2="75.3" stroke="#999" stroke-width="0.7"/>
<text x="399.82" y="81.2" font-size="6.8" fill="#383838" text-anchor="middle" stroke="#383838" stroke-width="0.32">3</text>
<line x1="407.34" y1="73.3" x2="407.34" y2="75.3" stroke="#999" stroke-width="0.7"/>
<text x="407.34" y="81.2" font-size="6.8" fill="#383838" text-anchor="middle" stroke="#383838" stroke-width="0.32">4</text>
<line x1="414.86" y1="73.3" x2="414.86" y2="75.3" stroke="#999" stroke-width="0.7"/>
<text x="414.86" y="81.2" font-size="6.8" fill="#383838" text-anchor="middle" stroke="#383838" stroke-width="0.32">5</text>
<line x1="422.38" y1="73.3" x2="422.38" y2="75.3" stroke="#999" stroke-width="0.7"/>
<text x="422.38" y="81.2" font-size="6.8" fill="#383838" text-anchor="middle" stroke="#383838" stroke-width="0.32">6</text>
<line x1="429.90" y1="73.3" x2="429.90" y2="75.3" stroke="#999" stroke-width="0.7"/>
<text x="429.90" y="81.2" font-size="6.8" fill="#383838" text-anchor="middle" stroke="#383838" stroke-width="0.32">7</text>
<polyline points="392.30,35 399.82,72.1 407.34,69.7 414.86,70.4 422.38,64.9 429.90,63.2" fill="none" stroke="#3a80c4" stroke-width="0.8"/>
<circle cx="392.30" cy="35" r="1.3" fill="#3a80c4"/>
<circle cx="399.82" cy="72.1" r="1.3" fill="#3a80c4"/>
<circle cx="407.34" cy="69.7" r="1.3" fill="#3a80c4"/>
<circle cx="414.86" cy="70.4" r="1.3" fill="#3a80c4"/>
<circle cx="422.38" cy="64.9" r="1.3" fill="#3a80c4"/>
<circle cx="429.90" cy="63.2" r="1.3" fill="#3a80c4"/>
<rect x="452.4" y="33.5" width="42.10000000000002" height="39.8" fill="#fff"/>
<line x1="458.21" y1="33.5" x2="458.21" y2="73.3" stroke="#ececec" stroke-width="0.5"/>
<line x1="465.83" y1="33.5" x2="465.83" y2="73.3" stroke="#ececec" stroke-width="0.5"/>
<line x1="473.45" y1="33.5" x2="473.45" y2="73.3" stroke="#ececec" stroke-width="0.5"/>
<line x1="481.07" y1="33.5" x2="481.07" y2="73.3" stroke="#ececec" stroke-width="0.5"/>
<line x1="488.69" y1="33.5" x2="488.69" y2="73.3" stroke="#ececec" stroke-width="0.5"/>
<line x1="452.4" y1="51.70" x2="494.5" y2="51.70" stroke="#ececec" stroke-width="0.5"/>
<line x1="452.4" y1="64.20" x2="494.5" y2="64.20" stroke="#ececec" stroke-width="0.5"/>
<line x1="454.40" y1="33.5" x2="454.40" y2="73.3" stroke="#e2e2e2" stroke-width="0.6"/>
<line x1="462.02" y1="33.5" x2="462.02" y2="73.3" stroke="#e2e2e2" stroke-width="0.6"/>
<line x1="469.64" y1="33.5" x2="469.64" y2="73.3" stroke="#e2e2e2" stroke-width="0.6"/>
<line x1="477.26" y1="33.5" x2="477.26" y2="73.3" stroke="#e2e2e2" stroke-width="0.6"/>
<line x1="484.88" y1="33.5" x2="484.88" y2="73.3" stroke="#e2e2e2" stroke-width="0.6"/>
<line x1="492.50" y1="33.5" x2="492.50" y2="73.3" stroke="#e2e2e2" stroke-width="0.6"/>
<line x1="452.4" y1="45.5" x2="494.5" y2="45.5" stroke="#e2e2e2" stroke-width="0.6"/>
<line x1="452.4" y1="57.9" x2="494.5" y2="57.9" stroke="#e2e2e2" stroke-width="0.6"/>
<line x1="452.4" y1="70.5" x2="494.5" y2="70.5" stroke="#e2e2e2" stroke-width="0.6"/>
<rect x="452.4" y="33.5" width="42.10000000000002" height="39.8" fill="none" stroke="#b0b0b0" stroke-width="0.8"/>
<rect x="452.4" y="23.5" width="42.10000000000002" height="10.0" fill="#d6d6d6" stroke="#9a9a9a" stroke-width="0.8"/>
<text x="473.45" y="30.8" font-size="6.9" fill="#1a1a1a" text-anchor="middle" font-weight="bold" textLength="13.0" lengthAdjust="spacingAndGlyphs" stroke="#1a1a1a" stroke-width="0.05">evar</text>
<line x1="450.4" y1="45.5" x2="452.4" y2="45.5" stroke="#999" stroke-width="0.7"/>
<text x="449.79999999999995" y="47.9" font-size="6.9" fill="#404040" text-anchor="end" textLength="15.64" lengthAdjust="spacingAndGlyphs" stroke="#404040" stroke-width="0.22">0.978</text>
<line x1="450.4" y1="57.9" x2="452.4" y2="57.9" stroke="#999" stroke-width="0.7"/>
<text x="449.79999999999995" y="60.3" font-size="6.9" fill="#404040" text-anchor="end" textLength="15.64" lengthAdjust="spacingAndGlyphs" stroke="#404040" stroke-width="0.22">0.976</text>
<line x1="450.4" y1="70.5" x2="452.4" y2="70.5" stroke="#999" stroke-width="0.7"/>
<text x="449.79999999999995" y="72.9" font-size="6.9" fill="#404040" text-anchor="end" textLength="15.64" lengthAdjust="spacingAndGlyphs" stroke="#404040" stroke-width="0.22">0.974</text>
<line x1="454.40" y1="73.3" x2="454.40" y2="75.3" stroke="#999" stroke-width="0.7"/>
<text x="454.40" y="81.2" font-size="6.8" fill="#383838" text-anchor="middle" stroke="#383838" stroke-width="0.32">2</text>
<line x1="462.02" y1="73.3" x2="462.02" y2="75.3" stroke="#999" stroke-width="0.7"/>
<text x="462.02" y="81.2" font-size="6.8" fill="#383838" text-anchor="middle" stroke="#383838" stroke-width="0.32">3</text>
<line x1="469.64" y1="73.3" x2="469.64" y2="75.3" stroke="#999" stroke-width="0.7"/>
<text x="469.64" y="81.2" font-size="6.8" fill="#383838" text-anchor="middle" stroke="#383838" stroke-width="0.32">4</text>
<line x1="477.26" y1="73.3" x2="477.26" y2="75.3" stroke="#999" stroke-width="0.7"/>
<text x="477.26" y="81.2" font-size="6.8" fill="#383838" text-anchor="middle" stroke="#383838" stroke-width="0.32">5</text>
<line x1="484.88" y1="73.3" x2="484.88" y2="75.3" stroke="#999" stroke-width="0.7"/>
<text x="484.88" y="81.2" font-size="6.8" fill="#383838" text-anchor="middle" stroke="#383838" stroke-width="0.32">6</text>
<line x1="492.50" y1="73.3" x2="492.50" y2="75.3" stroke="#999" stroke-width="0.7"/>
<text x="492.50" y="81.2" font-size="6.8" fill="#383838" text-anchor="middle" stroke="#383838" stroke-width="0.32">7</text>
<polyline points="454.40,72.4 462.02,62.2 469.64,53.4 477.26,46.4 484.88,39.9 492.50,35.3" fill="none" stroke="#3a80c4" stroke-width="0.8"/>
<circle cx="454.40" cy="72.4" r="1.3" fill="#3a80c4"/>
<circle cx="462.02" cy="62.2" r="1.3" fill="#3a80c4"/>
<circle cx="469.64" cy="53.4" r="1.3" fill="#3a80c4"/>
<circle cx="477.26" cy="46.4" r="1.3" fill="#3a80c4"/>
<circle cx="484.88" cy="39.9" r="1.3" fill="#3a80c4"/>
<circle cx="492.50" cy="35.3" r="1.3" fill="#3a80c4"/>
<rect x="322.5" y="94.4" width="42.0" height="40.79999999999998" fill="#fff"/>
<line x1="328.30" y1="94.4" x2="328.30" y2="135.2" stroke="#ececec" stroke-width="0.5"/>
<line x1="335.90" y1="94.4" x2="335.90" y2="135.2" stroke="#ececec" stroke-width="0.5"/>
<line x1="343.50" y1="94.4" x2="343.50" y2="135.2" stroke="#ececec" stroke-width="0.5"/>
<line x1="351.10" y1="94.4" x2="351.10" y2="135.2" stroke="#ececec" stroke-width="0.5"/>
<line x1="358.70" y1="94.4" x2="358.70" y2="135.2" stroke="#ececec" stroke-width="0.5"/>
<line x1="322.5" y1="109.60" x2="364.5" y2="109.60" stroke="#ececec" stroke-width="0.5"/>
<line x1="322.5" y1="119.80" x2="364.5" y2="119.80" stroke="#ececec" stroke-width="0.5"/>
<line x1="322.5" y1="129.90" x2="364.5" y2="129.90" stroke="#ececec" stroke-width="0.5"/>
<line x1="324.50" y1="94.4" x2="324.50" y2="135.2" stroke="#e2e2e2" stroke-width="0.6"/>
<line x1="332.10" y1="94.4" x2="332.10" y2="135.2" stroke="#e2e2e2" stroke-width="0.6"/>
<line x1="339.70" y1="94.4" x2="339.70" y2="135.2" stroke="#e2e2e2" stroke-width="0.6"/>
<line x1="347.30" y1="94.4" x2="347.30" y2="135.2" stroke="#e2e2e2" stroke-width="0.6"/>
<line x1="354.90" y1="94.4" x2="354.90" y2="135.2" stroke="#e2e2e2" stroke-width="0.6"/>
<line x1="362.50" y1="94.4" x2="362.50" y2="135.2" stroke="#e2e2e2" stroke-width="0.6"/>
<line x1="322.5" y1="104.4" x2="364.5" y2="104.4" stroke="#e2e2e2" stroke-width="0.6"/>
<line x1="322.5" y1="114.8" x2="364.5" y2="114.8" stroke="#e2e2e2" stroke-width="0.6"/>
<line x1="322.5" y1="124.8" x2="364.5" y2="124.8" stroke="#e2e2e2" stroke-width="0.6"/>
<line x1="322.5" y1="135.0" x2="364.5" y2="135.0" stroke="#e2e2e2" stroke-width="0.6"/>
<rect x="322.5" y="94.4" width="42.0" height="40.79999999999998" fill="none" stroke="#b0b0b0" stroke-width="0.8"/>
<rect x="322.5" y="84.7" width="42.0" height="9.700000000000003" fill="#d6d6d6" stroke="#9a9a9a" stroke-width="0.8"/>
<text x="343.5" y="91.85000000000001" font-size="6.9" fill="#1a1a1a" text-anchor="middle" font-weight="bold" textLength="27.7" lengthAdjust="spacingAndGlyphs" stroke="#1a1a1a" stroke-width="0.05">residuals</text>
<line x1="320.5" y1="104.4" x2="322.5" y2="104.4" stroke="#999" stroke-width="0.7"/>
<text x="319.9" y="106.80000000000001" font-size="6.9" fill="#404040" text-anchor="end" textLength="20.85" lengthAdjust="spacingAndGlyphs" stroke="#404040" stroke-width="0.22">450000</text>
<line x1="320.5" y1="114.8" x2="322.5" y2="114.8" stroke="#999" stroke-width="0.7"/>
<text x="319.9" y="117.2" font-size="6.9" fill="#404040" text-anchor="end" textLength="20.85" lengthAdjust="spacingAndGlyphs" stroke="#404040" stroke-width="0.22">420000</text>
<line x1="320.5" y1="124.8" x2="322.5" y2="124.8" stroke="#999" stroke-width="0.7"/>
<text x="319.9" y="127.2" font-size="6.9" fill="#404040" text-anchor="end" textLength="20.85" lengthAdjust="spacingAndGlyphs" stroke="#404040" stroke-width="0.22">390000</text>
<line x1="320.5" y1="135.0" x2="322.5" y2="135.0" stroke="#999" stroke-width="0.7"/>
<text x="319.9" y="137.4" font-size="6.9" fill="#404040" text-anchor="end" textLength="20.85" lengthAdjust="spacingAndGlyphs" stroke="#404040" stroke-width="0.22">360000</text>
<line x1="324.50" y1="135.2" x2="324.50" y2="137.2" stroke="#999" stroke-width="0.7"/>
<text x="324.50" y="142.70000000000002" font-size="6.8" fill="#383838" text-anchor="middle" stroke="#383838" stroke-width="0.32">2</text>
<line x1="332.10" y1="135.2" x2="332.10" y2="137.2" stroke="#999" stroke-width="0.7"/>
<text x="332.10" y="142.70000000000002" font-size="6.8" fill="#383838" text-anchor="middle" stroke="#383838" stroke-width="0.32">3</text>
<line x1="339.70" y1="135.2" x2="339.70" y2="137.2" stroke="#999" stroke-width="0.7"/>
<text x="339.70" y="142.70000000000002" font-size="6.8" fill="#383838" text-anchor="middle" stroke="#383838" stroke-width="0.32">4</text>
<line x1="347.30" y1="135.2" x2="347.30" y2="137.2" stroke="#999" stroke-width="0.7"/>
<text x="347.30" y="142.70000000000002" font-size="6.8" fill="#383838" text-anchor="middle" stroke="#383838" stroke-width="0.32">5</text>
<line x1="354.90" y1="135.2" x2="354.90" y2="137.2" stroke="#999" stroke-width="0.7"/>
<text x="354.90" y="142.70000000000002" font-size="6.8" fill="#383838" text-anchor="middle" stroke="#383838" stroke-width="0.32">6</text>
<line x1="362.50" y1="135.2" x2="362.50" y2="137.2" stroke="#999" stroke-width="0.7"/>
<text x="362.50" y="142.70000000000002" font-size="6.8" fill="#383838" text-anchor="middle" stroke="#383838" stroke-width="0.32">7</text>
<polyline points="324.50,96.5 332.10,106.3 339.70,115.2 347.30,122.1 354.90,128.9 362.50,133.6" fill="none" stroke="#3a80c4" stroke-width="0.8"/>
<circle cx="324.50" cy="96.5" r="1.3" fill="#3a80c4"/>
<circle cx="332.10" cy="106.3" r="1.3" fill="#3a80c4"/>
<circle cx="339.70" cy="115.2" r="1.3" fill="#3a80c4"/>
<circle cx="347.30" cy="122.1" r="1.3" fill="#3a80c4"/>
<circle cx="354.90" cy="128.9" r="1.3" fill="#3a80c4"/>
<circle cx="362.50" cy="133.6" r="1.3" fill="#3a80c4"/>
<rect x="390.3" y="94.4" width="41.599999999999966" height="40.79999999999998" fill="#fff"/>
<line x1="396.06" y1="94.4" x2="396.06" y2="135.2" stroke="#ececec" stroke-width="0.5"/>
<line x1="403.58" y1="94.4" x2="403.58" y2="135.2" stroke="#ececec" stroke-width="0.5"/>
<line x1="411.10" y1="94.4" x2="411.10" y2="135.2" stroke="#ececec" stroke-width="0.5"/>
<line x1="418.62" y1="94.4" x2="418.62" y2="135.2" stroke="#ececec" stroke-width="0.5"/>
<line x1="426.14" y1="94.4" x2="426.14" y2="135.2" stroke="#ececec" stroke-width="0.5"/>
<line x1="390.3" y1="100.10" x2="431.9" y2="100.10" stroke="#ececec" stroke-width="0.5"/>
<line x1="390.3" y1="108.70" x2="431.9" y2="108.70" stroke="#ececec" stroke-width="0.5"/>
<line x1="390.3" y1="117.35" x2="431.9" y2="117.35" stroke="#ececec" stroke-width="0.5"/>
<line x1="390.3" y1="126.00" x2="431.9" y2="126.00" stroke="#ececec" stroke-width="0.5"/>
<line x1="392.30" y1="94.4" x2="392.30" y2="135.2" stroke="#e2e2e2" stroke-width="0.6"/>
<line x1="399.82" y1="94.4" x2="399.82" y2="135.2" stroke="#e2e2e2" stroke-width="0.6"/>
<line x1="407.34" y1="94.4" x2="407.34" y2="135.2" stroke="#e2e2e2" stroke-width="0.6"/>
<line x1="414.86" y1="94.4" x2="414.86" y2="135.2" stroke="#e2e2e2" stroke-width="0.6"/>
<line x1="422.38" y1="94.4" x2="422.38" y2="135.2" stroke="#e2e2e2" stroke-width="0.6"/>
<line x1="429.90" y1="94.4" x2="429.90" y2="135.2" stroke="#e2e2e2" stroke-width="0.6"/>
<line x1="390.3" y1="95.8" x2="431.9" y2="95.8" stroke="#e2e2e2" stroke-width="0.6"/>
<line x1="390.3" y1="104.4" x2="431.9" y2="104.4" stroke="#e2e2e2" stroke-width="0.6"/>
<line x1="390.3" y1="113.0" x2="431.9" y2="113.0" stroke="#e2e2e2" stroke-width="0.6"/>
<line x1="390.3" y1="121.7" x2="431.9" y2="121.7" stroke="#e2e2e2" stroke-width="0.6"/>
<line x1="390.3" y1="130.3" x2="431.9" y2="130.3" stroke="#e2e2e2" stroke-width="0.6"/>
<rect x="390.3" y="94.4" width="41.599999999999966" height="40.79999999999998" fill="none" stroke="#b0b0b0" stroke-width="0.8"/>
<rect x="390.3" y="84.7" width="41.599999999999966" height="9.700000000000003" fill="#d6d6d6" stroke="#9a9a9a" stroke-width="0.8"/>
<text x="411.1" y="91.85000000000001" font-size="6.9" fill="#1a1a1a" text-anchor="middle" font-weight="bold" textLength="9.3" lengthAdjust="spacingAndGlyphs" stroke="#1a1a1a" stroke-width="0.05">rss</text>
<line x1="388.3" y1="95.8" x2="390.3" y2="95.8" stroke="#999" stroke-width="0.7"/>
<text x="387.7" y="98.2" font-size="6.9" fill="#404040" text-anchor="end" textLength="20.85" lengthAdjust="spacingAndGlyphs" stroke="#404040" stroke-width="0.22">950000</text>
<line x1="388.3" y1="104.4" x2="390.3" y2="104.4" stroke="#999" stroke-width="0.7"/>
<text x="387.7" y="106.80000000000001" font-size="6.9" fill="#404040" text-anchor="end" textLength="20.85" lengthAdjust="spacingAndGlyphs" stroke="#404040" stroke-width="0.22">900000</text>
<line x1="388.3" y1="113.0" x2="390.3" y2="113.0" stroke="#999" stroke-width="0.7"/>
<text x="387.7" y="115.4" font-size="6.9" fill="#404040" text-anchor="end" textLength="20.85" lengthAdjust="spacingAndGlyphs" stroke="#404040" stroke-width="0.22">850000</text>
<line x1="388.3" y1="121.7" x2="390.3" y2="121.7" stroke="#999" stroke-width="0.7"/>
<text x="387.7" y="124.10000000000001" font-size="6.9" fill="#404040" text-anchor="end" textLength="20.85" lengthAdjust="spacingAndGlyphs" stroke="#404040" stroke-width="0.22">800000</text>
<line x1="388.3" y1="130.3" x2="390.3" y2="130.3" stroke="#999" stroke-width="0.7"/>
<text x="387.7" y="132.70000000000002" font-size="6.9" fill="#404040" text-anchor="end" textLength="20.85" lengthAdjust="spacingAndGlyphs" stroke="#404040" stroke-width="0.22">750000</text>
<line x1="392.30" y1="135.2" x2="392.30" y2="137.2" stroke="#999" stroke-width="0.7"/>
<text x="392.30" y="142.70000000000002" font-size="6.8" fill="#383838" text-anchor="middle" stroke="#383838" stroke-width="0.32">2</text>
<line x1="399.82" y1="135.2" x2="399.82" y2="137.2" stroke="#999" stroke-width="0.7"/>
<text x="399.82" y="142.70000000000002" font-size="6.8" fill="#383838" text-anchor="middle" stroke="#383838" stroke-width="0.32">3</text>
<line x1="407.34" y1="135.2" x2="407.34" y2="137.2" stroke="#999" stroke-width="0.7"/>
<text x="407.34" y="142.70000000000002" font-size="6.8" fill="#383838" text-anchor="middle" stroke="#383838" stroke-width="0.32">4</text>
<line x1="414.86" y1="135.2" x2="414.86" y2="137.2" stroke="#999" stroke-width="0.7"/>
<text x="414.86" y="142.70000000000002" font-size="6.8" fill="#383838" text-anchor="middle" stroke="#383838" stroke-width="0.32">5</text>
<line x1="422.38" y1="135.2" x2="422.38" y2="137.2" stroke="#999" stroke-width="0.7"/>
<text x="422.38" y="142.70000000000002" font-size="6.8" fill="#383838" text-anchor="middle" stroke="#383838" stroke-width="0.32">6</text>
<line x1="429.90" y1="135.2" x2="429.90" y2="137.2" stroke="#999" stroke-width="0.7"/>
<text x="429.90" y="142.70000000000002" font-size="6.8" fill="#383838" text-anchor="middle" stroke="#383838" stroke-width="0.32">7</text>
<polyline points="392.30,96.5 399.82,106.3 407.34,115.2 414.86,122.1 422.38,128.9 429.90,133.6" fill="none" stroke="#3a80c4" stroke-width="0.8"/>
<circle cx="392.30" cy="96.5" r="1.3" fill="#3a80c4"/>
<circle cx="399.82" cy="106.3" r="1.3" fill="#3a80c4"/>
<circle cx="407.34" cy="115.2" r="1.3" fill="#3a80c4"/>
<circle cx="414.86" cy="122.1" r="1.3" fill="#3a80c4"/>
<circle cx="422.38" cy="128.9" r="1.3" fill="#3a80c4"/>
<circle cx="429.90" cy="133.6" r="1.3" fill="#3a80c4"/>
<rect x="452.4" y="94.4" width="42.10000000000002" height="40.79999999999998" fill="#fff"/>
<line x1="458.21" y1="94.4" x2="458.21" y2="135.2" stroke="#ececec" stroke-width="0.5"/>
<line x1="465.83" y1="94.4" x2="465.83" y2="135.2" stroke="#ececec" stroke-width="0.5"/>
<line x1="473.45" y1="94.4" x2="473.45" y2="135.2" stroke="#ececec" stroke-width="0.5"/>
<line x1="481.07" y1="94.4" x2="481.07" y2="135.2" stroke="#ececec" stroke-width="0.5"/>
<line x1="488.69" y1="94.4" x2="488.69" y2="135.2" stroke="#ececec" stroke-width="0.5"/>
<line x1="452.4" y1="102.00" x2="494.5" y2="102.00" stroke="#ececec" stroke-width="0.5"/>
<line x1="452.4" y1="112.20" x2="494.5" y2="112.20" stroke="#ececec" stroke-width="0.5"/>
<line x1="452.4" y1="122.40" x2="494.5" y2="122.40" stroke="#ececec" stroke-width="0.5"/>
<line x1="454.40" y1="94.4" x2="454.40" y2="135.2" stroke="#e2e2e2" stroke-width="0.6"/>
<line x1="462.02" y1="94.4" x2="462.02" y2="135.2" stroke="#e2e2e2" stroke-width="0.6"/>
<line x1="469.64" y1="94.4" x2="469.64" y2="135.2" stroke="#e2e2e2" stroke-width="0.6"/>
<line x1="477.26" y1="94.4" x2="477.26" y2="135.2" stroke="#e2e2e2" stroke-width="0.6"/>
<line x1="484.88" y1="94.4" x2="484.88" y2="135.2" stroke="#e2e2e2" stroke-width="0.6"/>
<line x1="492.50" y1="94.4" x2="492.50" y2="135.2" stroke="#e2e2e2" stroke-width="0.6"/>
<line x1="452.4" y1="97.0" x2="494.5" y2="97.0" stroke="#e2e2e2" stroke-width="0.6"/>
<line x1="452.4" y1="107.0" x2="494.5" y2="107.0" stroke="#e2e2e2" stroke-width="0.6"/>
<line x1="452.4" y1="117.4" x2="494.5" y2="117.4" stroke="#e2e2e2" stroke-width="0.6"/>
<line x1="452.4" y1="127.4" x2="494.5" y2="127.4" stroke="#e2e2e2" stroke-width="0.6"/>
<rect x="452.4" y="94.4" width="42.10000000000002" height="40.79999999999998" fill="none" stroke="#b0b0b0" stroke-width="0.8"/>
<rect x="452.4" y="84.7" width="42.10000000000002" height="9.700000000000003" fill="#d6d6d6" stroke="#9a9a9a" stroke-width="0.8"/>
<text x="473.45" y="91.85000000000001" font-size="6.9" fill="#1a1a1a" text-anchor="middle" font-weight="bold" textLength="29.4" lengthAdjust="spacingAndGlyphs" stroke="#1a1a1a" stroke-width="0.05">silhouette</text>
<line x1="450.4" y1="97.0" x2="452.4" y2="97.0" stroke="#999" stroke-width="0.7"/>
<text x="449.79999999999995" y="99.4" font-size="6.9" fill="#404040" text-anchor="end" textLength="8.69" lengthAdjust="spacingAndGlyphs" stroke="#404040" stroke-width="0.22">1.0</text>
<line x1="450.4" y1="107.0" x2="452.4" y2="107.0" stroke="#999" stroke-width="0.7"/>
<text x="449.79999999999995" y="109.4" font-size="6.9" fill="#404040" text-anchor="end" textLength="8.69" lengthAdjust="spacingAndGlyphs" stroke="#404040" stroke-width="0.22">0.8</text>
<line x1="450.4" y1="117.4" x2="452.4" y2="117.4" stroke="#999" stroke-width="0.7"/>
<text x="449.79999999999995" y="119.80000000000001" font-size="6.9" fill="#404040" text-anchor="end" textLength="8.69" lengthAdjust="spacingAndGlyphs" stroke="#404040" stroke-width="0.22">0.6</text>
<line x1="450.4" y1="127.4" x2="452.4" y2="127.4" stroke="#999" stroke-width="0.7"/>
<text x="449.79999999999995" y="129.8" font-size="6.9" fill="#404040" text-anchor="end" textLength="8.69" lengthAdjust="spacingAndGlyphs" stroke="#404040" stroke-width="0.22">0.4</text>
<line x1="454.40" y1="135.2" x2="454.40" y2="137.2" stroke="#999" stroke-width="0.7"/>
<text x="454.40" y="142.70000000000002" font-size="6.8" fill="#383838" text-anchor="middle" stroke="#383838" stroke-width="0.32">2</text>
<line x1="462.02" y1="135.2" x2="462.02" y2="137.2" stroke="#999" stroke-width="0.7"/>
<text x="462.02" y="142.70000000000002" font-size="6.8" fill="#383838" text-anchor="middle" stroke="#383838" stroke-width="0.32">3</text>
<line x1="469.64" y1="135.2" x2="469.64" y2="137.2" stroke="#999" stroke-width="0.7"/>
<text x="469.64" y="142.70000000000002" font-size="6.8" fill="#383838" text-anchor="middle" stroke="#383838" stroke-width="0.32">4</text>
<line x1="477.26" y1="135.2" x2="477.26" y2="137.2" stroke="#999" stroke-width="0.7"/>
<text x="477.26" y="142.70000000000002" font-size="6.8" fill="#383838" text-anchor="middle" stroke="#383838" stroke-width="0.32">5</text>
<line x1="484.88" y1="135.2" x2="484.88" y2="137.2" stroke="#999" stroke-width="0.7"/>
<text x="484.88" y="142.70000000000002" font-size="6.8" fill="#383838" text-anchor="middle" stroke="#383838" stroke-width="0.32">6</text>
<line x1="492.50" y1="135.2" x2="492.50" y2="137.2" stroke="#999" stroke-width="0.7"/>
<text x="492.50" y="142.70000000000002" font-size="6.8" fill="#383838" text-anchor="middle" stroke="#383838" stroke-width="0.32">7</text>
<polyline points="454.40,96.1 462.02,116.4 469.64,122.8 477.26,127.8 484.88,132.4 492.50,133.6" fill="none" stroke="#3a80c4" stroke-width="0.8"/>
<circle cx="454.40" cy="96.1" r="1.3" fill="#3a80c4"/>
<circle cx="462.02" cy="116.4" r="1.3" fill="#3a80c4"/>
<circle cx="469.64" cy="122.8" r="1.3" fill="#3a80c4"/>
<circle cx="477.26" cy="127.8" r="1.3" fill="#3a80c4"/>
<circle cx="484.88" cy="132.4" r="1.3" fill="#3a80c4"/>
<circle cx="492.50" cy="133.6" r="1.3" fill="#3a80c4"/>
<polyline points="454.40,96.1 462.02,116.4 469.64,122.8 477.26,127.8 484.88,132.4 492.50,133.6" fill="none" stroke="#e8141c" stroke-width="0.8"/>
<circle cx="454.40" cy="96.1" r="1.3" fill="#e8141c"/>
<circle cx="462.02" cy="116.4" r="1.3" fill="#e8141c"/>
<circle cx="469.64" cy="122.8" r="1.3" fill="#e8141c"/>
<circle cx="477.26" cy="127.8" r="1.3" fill="#e8141c"/>
<circle cx="484.88" cy="132.4" r="1.3" fill="#e8141c"/>
<circle cx="492.50" cy="133.6" r="1.3" fill="#e8141c"/>
<polyline points="454.40,97 462.02,113.8 469.64,119 477.26,125.7 484.88,129.6 492.50,130.6" fill="none" stroke="#3fae3f" stroke-width="0.8"/>
<circle cx="454.40" cy="97" r="1.3" fill="#3fae3f"/>
<circle cx="462.02" cy="113.8" r="1.3" fill="#3fae3f"/>
<circle cx="469.64" cy="119" r="1.3" fill="#3fae3f"/>
<circle cx="477.26" cy="125.7" r="1.3" fill="#3fae3f"/>
<circle cx="484.88" cy="129.6" r="1.3" fill="#3fae3f"/>
<circle cx="492.50" cy="130.6" r="1.3" fill="#3fae3f"/>
<polyline points="454.40,97.5 462.02,122 469.64,117.8 477.26,125.7 484.88,129.3 492.50,129.6" fill="none" stroke="#9a3fb0" stroke-width="0.8"/>
<circle cx="454.40" cy="97.5" r="1.3" fill="#9a3fb0"/>
<circle cx="462.02" cy="122" r="1.3" fill="#9a3fb0"/>
<circle cx="469.64" cy="117.8" r="1.3" fill="#9a3fb0"/>
<circle cx="477.26" cy="125.7" r="1.3" fill="#9a3fb0"/>
<circle cx="484.88" cy="129.3" r="1.3" fill="#9a3fb0"/>
<circle cx="492.50" cy="129.6" r="1.3" fill="#9a3fb0"/>
<rect x="322.5" y="155.8" width="42.0" height="40.29999999999998" fill="#fff"/>
<line x1="328.30" y1="155.8" x2="328.30" y2="196.1" stroke="#ececec" stroke-width="0.5"/>
<line x1="335.90" y1="155.8" x2="335.90" y2="196.1" stroke="#ececec" stroke-width="0.5"/>
<line x1="343.50" y1="155.8" x2="343.50" y2="196.1" stroke="#ececec" stroke-width="0.5"/>
<line x1="351.10" y1="155.8" x2="351.10" y2="196.1" stroke="#ececec" stroke-width="0.5"/>
<line x1="358.70" y1="155.8" x2="358.70" y2="196.1" stroke="#ececec" stroke-width="0.5"/>
<line x1="322.5" y1="166.40" x2="364.5" y2="166.40" stroke="#ececec" stroke-width="0.5"/>
<line x1="322.5" y1="173.95" x2="364.5" y2="173.95" stroke="#ececec" stroke-width="0.5"/>
<line x1="322.5" y1="181.50" x2="364.5" y2="181.50" stroke="#ececec" stroke-width="0.5"/>
<line x1="322.5" y1="189.05" x2="364.5" y2="189.05" stroke="#ececec" stroke-width="0.5"/>
<line x1="324.50" y1="155.8" x2="324.50" y2="196.1" stroke="#e2e2e2" stroke-width="0.6"/>
<line x1="332.10" y1="155.8" x2="332.10" y2="196.1" stroke="#e2e2e2" stroke-width="0.6"/>
<line x1="339.70" y1="155.8" x2="339.70" y2="196.1" stroke="#e2e2e2" stroke-width="0.6"/>
<line x1="347.30" y1="155.8" x2="347.30" y2="196.1" stroke="#e2e2e2" stroke-width="0.6"/>
<line x1="354.90" y1="155.8" x2="354.90" y2="196.1" stroke="#e2e2e2" stroke-width="0.6"/>
<line x1="362.50" y1="155.8" x2="362.50" y2="196.1" stroke="#e2e2e2" stroke-width="0.6"/>
<line x1="322.5" y1="162.6" x2="364.5" y2="162.6" stroke="#e2e2e2" stroke-width="0.6"/>
<line x1="322.5" y1="170.2" x2="364.5" y2="170.2" stroke="#e2e2e2" stroke-width="0.6"/>
<line x1="322.5" y1="177.7" x2="364.5" y2="177.7" stroke="#e2e2e2" stroke-width="0.6"/>
<line x1="322.5" y1="185.3" x2="364.5" y2="185.3" stroke="#e2e2e2" stroke-width="0.6"/>
<line x1="322.5" y1="192.8" x2="364.5" y2="192.8" stroke="#e2e2e2" stroke-width="0.6"/>
<rect x="322.5" y="155.8" width="42.0" height="40.29999999999998" fill="none" stroke="#b0b0b0" stroke-width="0.8"/>
<rect x="322.5" y="146.2" width="42.0" height="9.600000000000023" fill="#d6d6d6" stroke="#9a9a9a" stroke-width="0.8"/>
<text x="343.5" y="153.3" font-size="6.9" fill="#1a1a1a" text-anchor="middle" font-weight="bold" textLength="34.2" lengthAdjust="spacingAndGlyphs" stroke="#1a1a1a" stroke-width="0.05">sparseness</text>
<line x1="320.5" y1="162.6" x2="322.5" y2="162.6" stroke="#999" stroke-width="0.7"/>
<text x="319.9" y="165.0" font-size="6.9" fill="#404040" text-anchor="end" textLength="12.16" lengthAdjust="spacingAndGlyphs" stroke="#404040" stroke-width="0.22">0.40</text>
<line x1="320.5" y1="170.2" x2="322.5" y2="170.2" stroke="#999" stroke-width="0.7"/>
<text x="319.9" y="172.6" font-size="6.9" fill="#404040" text-anchor="end" textLength="12.16" lengthAdjust="spacingAndGlyphs" stroke="#404040" stroke-width="0.22">0.35</text>
<line x1="320.5" y1="177.7" x2="322.5" y2="177.7" stroke="#999" stroke-width="0.7"/>
<text x="319.9" y="180.1" font-size="6.9" fill="#404040" text-anchor="end" textLength="12.16" lengthAdjust="spacingAndGlyphs" stroke="#404040" stroke-width="0.22">0.30</text>
<line x1="320.5" y1="185.3" x2="322.5" y2="185.3" stroke="#999" stroke-width="0.7"/>
<text x="319.9" y="187.70000000000002" font-size="6.9" fill="#404040" text-anchor="end" textLength="12.16" lengthAdjust="spacingAndGlyphs" stroke="#404040" stroke-width="0.22">0.25</text>
<line x1="320.5" y1="192.8" x2="322.5" y2="192.8" stroke="#999" stroke-width="0.7"/>
<text x="319.9" y="195.20000000000002" font-size="6.9" fill="#404040" text-anchor="end" textLength="12.16" lengthAdjust="spacingAndGlyphs" stroke="#404040" stroke-width="0.22">0.20</text>
<line x1="324.50" y1="196.1" x2="324.50" y2="198.1" stroke="#999" stroke-width="0.7"/>
<text x="324.50" y="203.5" font-size="6.8" fill="#383838" text-anchor="middle" stroke="#383838" stroke-width="0.32">2</text>
<line x1="332.10" y1="196.1" x2="332.10" y2="198.1" stroke="#999" stroke-width="0.7"/>
<text x="332.10" y="203.5" font-size="6.8" fill="#383838" text-anchor="middle" stroke="#383838" stroke-width="0.32">3</text>
<line x1="339.70" y1="196.1" x2="339.70" y2="198.1" stroke="#999" stroke-width="0.7"/>
<text x="339.70" y="203.5" font-size="6.8" fill="#383838" text-anchor="middle" stroke="#383838" stroke-width="0.32">4</text>
<line x1="347.30" y1="196.1" x2="347.30" y2="198.1" stroke="#999" stroke-width="0.7"/>
<text x="347.30" y="203.5" font-size="6.8" fill="#383838" text-anchor="middle" stroke="#383838" stroke-width="0.32">5</text>
<line x1="354.90" y1="196.1" x2="354.90" y2="198.1" stroke="#999" stroke-width="0.7"/>
<text x="354.90" y="203.5" font-size="6.8" fill="#383838" text-anchor="middle" stroke="#383838" stroke-width="0.32">6</text>
<line x1="362.50" y1="196.1" x2="362.50" y2="198.1" stroke="#999" stroke-width="0.7"/>
<text x="362.50" y="203.5" font-size="6.8" fill="#383838" text-anchor="middle" stroke="#383838" stroke-width="0.32">7</text>
<polyline points="324.50,157.7 332.10,180.4 339.70,181.2 347.30,183.4 354.90,183.3 362.50,184.3" fill="none" stroke="#3fae3f" stroke-width="0.8"/>
<circle cx="324.50" cy="157.7" r="1.3" fill="#3fae3f"/>
<circle cx="332.10" cy="180.4" r="1.3" fill="#3fae3f"/>
<circle cx="339.70" cy="181.2" r="1.3" fill="#3fae3f"/>
<circle cx="347.30" cy="183.4" r="1.3" fill="#3fae3f"/>
<circle cx="354.90" cy="183.3" r="1.3" fill="#3fae3f"/>
<circle cx="362.50" cy="184.3" r="1.3" fill="#3fae3f"/>
<polyline points="324.50,187.8 332.10,194.5 339.70,193.1 347.30,193.1 354.90,192.7 362.50,193.0" fill="none" stroke="#e8141c" stroke-width="0.8"/>
<circle cx="324.50" cy="187.8" r="1.3" fill="#e8141c"/>
<circle cx="332.10" cy="194.5" r="1.3" fill="#e8141c"/>
<circle cx="339.70" cy="193.1" r="1.3" fill="#e8141c"/>
<circle cx="347.30" cy="193.1" r="1.3" fill="#e8141c"/>
<circle cx="354.90" cy="192.7" r="1.3" fill="#e8141c"/>
<circle cx="362.50" cy="193.0" r="1.3" fill="#e8141c"/>
<text x="501.9" y="100.0" font-size="6.9" fill="#111" text-anchor="start" font-weight="bold" textLength="39.5" lengthAdjust="spacingAndGlyphs" stroke="#111" stroke-width="0.1">Measure type</text>
<line x1="502.4" y1="107.4" x2="508.8" y2="107.4" stroke="#e8141c" stroke-width="0.9"/>
<circle cx="505.6" cy="107.4" r="1.3" fill="#e8141c"/>
<text x="512.9" y="110.10000000000001" font-size="7.4" fill="#222" text-anchor="start" textLength="14.6" lengthAdjust="spacingAndGlyphs" stroke="#222" stroke-width="0.15">Basis</text>
<line x1="502.4" y1="115.5" x2="508.8" y2="115.5" stroke="#3a80c4" stroke-width="0.9"/>
<circle cx="505.6" cy="115.5" r="1.3" fill="#3a80c4"/>
<text x="512.9" y="118.2" font-size="7.4" fill="#222" text-anchor="start" textLength="18.5" lengthAdjust="spacingAndGlyphs" stroke="#222" stroke-width="0.15">Best fit</text>
<line x1="502.4" y1="123.5" x2="508.8" y2="123.5" stroke="#3fae3f" stroke-width="0.9"/>
<circle cx="505.6" cy="123.5" r="1.3" fill="#3fae3f"/>
<text x="512.9" y="126.2" font-size="7.4" fill="#222" text-anchor="start" textLength="31.7" lengthAdjust="spacingAndGlyphs" stroke="#222" stroke-width="0.15">Coefficients</text>
<line x1="502.4" y1="131.4" x2="508.8" y2="131.4" stroke="#9a3fb0" stroke-width="0.9"/>
<circle cx="505.6" cy="131.4" r="1.3" fill="#9a3fb0"/>
<text x="512.9" y="134.1" font-size="7.4" fill="#222" text-anchor="start" textLength="30.5" lengthAdjust="spacingAndGlyphs" stroke="#222" stroke-width="0.15">Consensus</text>
<text x="5.2" y="225.9" font-size="8.8" fill="#111" text-anchor="start" font-weight="bold" textLength="71.7" lengthAdjust="spacingAndGlyphs" stroke="#111" stroke-width="0.22">(c) Consensus plot</text>
<rect x="22.2" y="253.2" width="66.3" height="70.10000000000002" fill="#fde6a8"/>
<rect x="23.2" y="254.2" width="65.3" height="69.10000000000002" fill="#f3a05a"/>
<rect x="24.0" y="255.0" width="64.0" height="67.80000000000003" fill="#a50026"/>
<rect x="88.5" y="253.2" width="86.5" height="70.10000000000002" fill="#d7edf4"/>
<rect x="88.5" y="254.2" width="86.5" height="69.10000000000002" fill="#a9d3e6"/>
<rect x="89.1" y="255.0" width="85.9" height="67.80000000000003" fill="#313695"/>
<rect x="22.2" y="323.3" width="66.3" height="92.19999999999999" fill="#d7edf4"/>
<rect x="23.2" y="323.3" width="65.3" height="92.19999999999999" fill="#a9d3e6"/>
<rect x="24.0" y="323.90000000000003" width="64.0" height="91.6" fill="#313695"/>
<rect x="88.5" y="323.3" width="86.5" height="92.19999999999999" fill="#f08a4b"/>
<rect x="89.5" y="324.3" width="85.5" height="91.19999999999999" fill="#a50026"/>
<defs><filter id="bh" x="-0.01" y="-0.2" width="1.02" height="1.4"><feGaussianBlur stdDeviation="0.45 0.25"/></filter><filter id="bv" x="-0.2" y="-0.01" width="1.4" height="1.02"><feGaussianBlur stdDeviation="0.25 0.45"/></filter></defs>
<g>
<rect x="22.2" y="236.2" width="152.8" height="4.1" fill="#ffa500"/>
<g filter="url(#bh)">
<rect x="22.20" y="236.2" width="0.66" height="4.1" fill="#ffa500"/>
<rect x="22.76" y="236.2" width="1.23" height="4.1" fill="#006400"/>
<rect x="23.89" y="236.2" width="3.48" height="4.1" fill="#ffa500"/>
<rect x="27.27" y="236.2" width="1.79" height="4.1" fill="#006400"/>
<rect x="28.97" y="236.2" width="0.38" height="4.1" fill="#ffa500"/>
<rect x="29.25" y="236.2" width="0.38" height="4.1" fill="#ff0000"/>
<rect x="29.53" y="236.2" width="0.66" height="4.1" fill="#ffa500"/>
<rect x="30.09" y="236.2" width="0.66" height="4.1" fill="#00008b"/>
<rect x="30.66" y="236.2" width="0.66" height="4.1" fill="#ffa500"/>
<rect x="31.22" y="236.2" width="0.66" height="4.1" fill="#006400"/>
<rect x="31.79" y="236.2" width="0.95" height="4.1" fill="#ffa500"/>
<rect x="32.63" y="236.2" width="0.66" height="4.1" fill="#006400"/>
<rect x="33.19" y="236.2" width="0.38" height="4.1" fill="#ffa500"/>
<rect x="33.48" y="236.2" width="0.66" height="4.1" fill="#ff0000"/>
<rect x="34.04" y="236.2" width="0.95" height="4.1" fill="#006400"/>
<rect x="34.89" y="236.2" width="0.66" height="4.1" fill="#ffa500"/>
<rect x="35.45" y="236.2" width="0.38" height="4.1" fill="#ff0000"/>
<rect x="35.73" y="236.2" width="0.66" height="4.1" fill="#ffa500"/>
<rect x="36.30" y="236.2" width="0.38" height="4.1" fill="#006400"/>
<rect x="36.58" y="236.2" width="0.66" height="4.1" fill="#ffa500"/>
<rect x="37.14" y="236.2" width="0.38" height="4.1" fill="#ff0000"/>
<rect x="37.42" y="236.2" width="0.66" height="4.1" fill="#006400"/>
<rect x="37.99" y="236.2" width="2.07" height="4.1" fill="#ffa500"/>
<rect x="39.96" y="236.2" width="0.38" height="4.1" fill="#ff0000"/>
<rect x="40.24" y="236.2" width="0.66" height="4.1" fill="#00008b"/>
<rect x="40.81" y="236.2" width="1.23" height="4.1" fill="#ffa500"/>
<rect x="41.93" y="236.2" width="0.38" height="4.1" fill="#006400"/>
<rect x="42.22" y="236.2" width="0.66" height="4.1" fill="#ff0000"/>
<rect x="42.78" y="236.2" width="0.38" height="4.1" fill="#006400"/>
<rect x="43.06" y="236.2" width="0.95" height="4.1" fill="#ffa500"/>
<rect x="43.91" y="236.2" width="1.79" height="4.1" fill="#006400"/>
<rect x="45.60" y="236.2" width="1.79" height="4.1" fill="#ffa500"/>
<rect x="47.29" y="236.2" width="2.64" height="4.1" fill="#006400"/>
<rect x="49.83" y="236.2" width="0.95" height="4.1" fill="#00008b"/>
<rect x="50.67" y="236.2" width="2.64" height="4.1" fill="#006400"/>
<rect x="53.21" y="236.2" width="0.95" height="4.1" fill="#ffa500"/>
<rect x="54.06" y="236.2" width="0.38" height="4.1" fill="#ff0000"/>
<rect x="54.34" y="236.2" width="0.38" height="4.1" fill="#006400"/>
<rect x="54.62" y="236.2" width="0.38" height="4.1" fill="#ffa500"/>
<rect x="54.90" y="236.2" width="0.66" height="4.1" fill="#006400"/>
<rect x="55.47" y="236.2" width="0.66" height="4.1" fill="#ff0000"/>
<rect x="56.03" y="236.2" width="0.38" height="4.1" fill="#00008b"/>
<rect x="56.31" y="236.2" width="1.23" height="4.1" fill="#006400"/>
<rect x="57.44" y="236.2" width="0.66" height="4.1" fill="#ff0000"/>
<rect x="58.00" y="236.2" width="0.38" height="4.1" fill="#006400"/>
<rect x="58.29" y="236.2" width="0.38" height="4.1" fill="#ffa500"/>
<rect x="58.57" y="236.2" width="1.23" height="4.1" fill="#006400"/>
<rect x="59.70" y="236.2" width="0.38" height="4.1" fill="#ff0000"/>
<rect x="59.98" y="236.2" width="1.51" height="4.1" fill="#006400"/>
<rect x="61.39" y="236.2" width="0.38" height="4.1" fill="#ffa500"/>
<rect x="61.67" y="236.2" width="0.95" height="4.1" fill="#006400"/>
<rect x="62.51" y="236.2" width="0.38" height="4.1" fill="#00008b"/>
<rect x="62.80" y="236.2" width="0.38" height="4.1" fill="#ffa500"/>
<rect x="63.08" y="236.2" width="0.38" height="4.1" fill="#006400"/>
<rect x="63.36" y="236.2" width="0.38" height="4.1" fill="#ffa500"/>
<rect x="63.64" y="236.2" width="0.66" height="4.1" fill="#ff0000"/>
<rect x="64.21" y="236.2" width="0.66" height="4.1" fill="#ffa500"/>
<rect x="64.77" y="236.2" width="0.66" height="4.1" fill="#006400"/>
<rect x="65.33" y="236.2" width="0.38" height="4.1" fill="#ffa500"/>
<rect x="65.62" y="236.2" width="0.66" height="4.1" fill="#006400"/>
<rect x="66.18" y="236.2" width="0.38" height="4.1" fill="#ffa500"/>
<rect x="66.46" y="236.2" width="1.23" height="4.1" fill="#006400"/>
<rect x="67.59" y="236.2" width="0.95" height="4.1" fill="#ffa500"/>
<rect x="68.43" y="236.2" width="1.51" height="4.1" fill="#006400"/>
<rect x="69.84" y="236.2" width="0.38" height="4.1" fill="#ffa500"/>
<rect x="70.13" y="236.2" width="0.95" height="4.1" fill="#ff0000"/>
<rect x="70.97" y="236.2" width="0.66" height="4.1" fill="#006400"/>
<rect x="71.54" y="236.2" width="0.38" height="4.1" fill="#ffa500"/>
<rect x="71.82" y="236.2" width="1.23" height="4.1" fill="#ff0000"/>
<rect x="72.95" y="236.2" width="0.66" height="4.1" fill="#ffa500"/>
<rect x="73.51" y="236.2" width="1.23" height="4.1" fill="#006400"/>
<rect x="74.64" y="236.2" width="1.51" height="4.1" fill="#ffa500"/>
<rect x="76.05" y="236.2" width="0.95" height="4.1" fill="#006400"/>
<rect x="76.89" y="236.2" width="0.38" height="4.1" fill="#ffa500"/>
<rect x="77.17" y="236.2" width="0.95" height="4.1" fill="#006400"/>
<rect x="78.02" y="236.2" width="0.38" height="4.1" fill="#ffa500"/>
<rect x="78.30" y="236.2" width="0.38" height="4.1" fill="#006400"/>
<rect x="78.58" y="236.2" width="0.38" height="4.1" fill="#ffa500"/>
<rect x="78.87" y="236.2" width="0.66" height="4.1" fill="#006400"/>
<rect x="79.43" y="236.2" width="2.07" height="4.1" fill="#ff0000"/>
<rect x="81.40" y="236.2" width="0.38" height="4.1" fill="#006400"/>
<rect x="81.68" y="236.2" width="0.38" height="4.1" fill="#ffa500"/>
<rect x="81.97" y="236.2" width="1.51" height="4.1" fill="#006400"/>
<rect x="83.38" y="236.2" width="0.66" height="4.1" fill="#ffa500"/>
<rect x="83.94" y="236.2" width="0.66" height="4.1" fill="#ff0000"/>
<rect x="84.50" y="236.2" width="0.66" height="4.1" fill="#006400"/>
<rect x="85.07" y="236.2" width="1.23" height="4.1" fill="#ff0000"/>
<rect x="86.20" y="236.2" width="0.38" height="4.1" fill="#ffa500"/>
<rect x="86.48" y="236.2" width="0.38" height="4.1" fill="#006400"/>
<rect x="86.76" y="236.2" width="0.38" height="4.1" fill="#ffa500"/>
<rect x="87.04" y="236.2" width="1.23" height="4.1" fill="#006400"/>
<rect x="88.17" y="236.2" width="1.23" height="4.1" fill="#ff0000"/>
<rect x="89.30" y="236.2" width="2.36" height="4.1" fill="#006400"/>
<rect x="91.55" y="236.2" width="0.38" height="4.1" fill="#00008b"/>
<rect x="91.83" y="236.2" width="0.95" height="4.1" fill="#006400"/>
<rect x="92.68" y="236.2" width="0.38" height="4.1" fill="#ffa500"/>
<rect x="92.96" y="236.2" width="1.79" height="4.1" fill="#006400"/>
<rect x="94.65" y="236.2" width="0.38" height="4.1" fill="#00008b"/>
<rect x="94.94" y="236.2" width="3.20" height="4.1" fill="#006400"/>
<rect x="98.04" y="236.2" width="0.38" height="4.1" fill="#ff0000"/>
<rect x="98.32" y="236.2" width="0.66" height="4.1" fill="#006400"/>
<rect x="98.88" y="236.2" width="0.95" height="4.1" fill="#00008b"/>
<rect x="99.73" y="236.2" width="0.66" height="4.1" fill="#006400"/>
<rect x="100.29" y="236.2" width="0.38" height="4.1" fill="#ff0000"/>
<rect x="100.57" y="236.2" width="4.33" height="4.1" fill="#006400"/>
<rect x="104.80" y="236.2" width="0.38" height="4.1" fill="#00008b"/>
<rect x="105.08" y="236.2" width="1.79" height="4.1" fill="#006400"/>
<rect x="106.78" y="236.2" width="0.38" height="4.1" fill="#ff0000"/>
<rect x="107.06" y="236.2" width="2.36" height="4.1" fill="#006400"/>
<rect x="109.31" y="236.2" width="0.38" height="4.1" fill="#00008b"/>
<rect x="109.59" y="236.2" width="2.92" height="4.1" fill="#006400"/>
<rect x="112.41" y="236.2" width="0.66" height="4.1" fill="#ffa500"/>
<rect x="112.98" y="236.2" width="3.48" height="4.1" fill="#006400"/>
<rect x="116.36" y="236.2" width="0.38" height="4.1" fill="#00008b"/>
<rect x="116.64" y="236.2" width="0.66" height="4.1" fill="#006400"/>
<rect x="117.21" y="236.2" width="0.95" height="4.1" fill="#ff0000"/>
<rect x="118.05" y="236.2" width="1.23" height="4.1" fill="#006400"/>
<rect x="119.18" y="236.2" width="0.38" height="4.1" fill="#00008b"/>
<rect x="119.46" y="236.2" width="2.36" height="4.1" fill="#006400"/>
<rect x="121.72" y="236.2" width="0.66" height="4.1" fill="#00008b"/>
<rect x="122.28" y="236.2" width="0.95" height="4.1" fill="#006400"/>
<rect x="123.13" y="236.2" width="0.66" height="4.1" fill="#ffa500"/>
<rect x="123.69" y="236.2" width="0.38" height="4.1" fill="#ff0000"/>
<rect x="123.97" y="236.2" width="1.79" height="4.1" fill="#006400"/>
<rect x="125.66" y="236.2" width="0.38" height="4.1" fill="#ff0000"/>
<rect x="125.95" y="236.2" width="7.15" height="4.1" fill="#006400"/>
<rect x="132.99" y="236.2" width="0.38" height="4.1" fill="#ffa500"/>
<rect x="133.28" y="236.2" width="1.79" height="4.1" fill="#006400"/>
<rect x="134.97" y="236.2" width="0.38" height="4.1" fill="#ff0000"/>
<rect x="135.25" y="236.2" width="4.05" height="4.1" fill="#006400"/>
<rect x="139.20" y="236.2" width="0.66" height="4.1" fill="#ffa500"/>
<rect x="139.76" y="236.2" width="0.38" height="4.1" fill="#006400"/>
<rect x="140.04" y="236.2" width="0.38" height="4.1" fill="#ffa500"/>
<rect x="140.32" y="236.2" width="0.66" height="4.1" fill="#006400"/>
<rect x="140.89" y="236.2" width="0.38" height="4.1" fill="#ffa500"/>
<rect x="141.17" y="236.2" width="6.30" height="4.1" fill="#006400"/>
<rect x="147.37" y="236.2" width="0.66" height="4.1" fill="#ffa500"/>
<rect x="147.94" y="236.2" width="0.38" height="4.1" fill="#006400"/>
<rect x="148.22" y="236.2" width="0.95" height="4.1" fill="#ffa500"/>
<rect x="149.06" y="236.2" width="2.64" height="4.1" fill="#006400"/>
<rect x="151.60" y="236.2" width="0.66" height="4.1" fill="#ffa500"/>
<rect x="152.16" y="236.2" width="0.95" height="4.1" fill="#006400"/>
<rect x="153.01" y="236.2" width="0.38" height="4.1" fill="#ff0000"/>
<rect x="153.29" y="236.2" width="6.87" height="4.1" fill="#006400"/>
<rect x="160.06" y="236.2" width="0.38" height="4.1" fill="#00008b"/>
<rect x="160.34" y="236.2" width="0.38" height="4.1" fill="#ffa500"/>
<rect x="160.62" y="236.2" width="2.92" height="4.1" fill="#006400"/>
<rect x="163.44" y="236.2" width="0.38" height="4.1" fill="#ffa500"/>
<rect x="163.72" y="236.2" width="0.95" height="4.1" fill="#006400"/>
<rect x="164.57" y="236.2" width="0.66" height="4.1" fill="#00008b"/>
<rect x="165.13" y="236.2" width="2.64" height="4.1" fill="#006400"/>
<rect x="167.67" y="236.2" width="0.38" height="4.1" fill="#ff0000"/>
<rect x="167.95" y="236.2" width="5.17" height="4.1" fill="#006400"/>
<rect x="173.03" y="236.2" width="0.38" height="4.1" fill="#ffa500"/>
<rect x="173.31" y="236.2" width="1.79" height="4.1" fill="#006400"/>
</g>
<rect x="22.2" y="242.0" width="152.8" height="4.2" fill="#ff0000"/>
<g filter="url(#bh)">
<rect x="22.20" y="242.0" width="5.17" height="4.2" fill="#ff0000"/>
<rect x="27.27" y="242.0" width="5.74" height="4.2" fill="#0000ff"/>
<rect x="32.91" y="242.0" width="5.74" height="4.2" fill="#ff0000"/>
<rect x="38.55" y="242.0" width="0.95" height="4.2" fill="#0000ff"/>
<rect x="39.40" y="242.0" width="0.95" height="4.2" fill="#ff0000"/>
<rect x="40.24" y="242.0" width="0.66" height="4.2" fill="#0000ff"/>
<rect x="40.81" y="242.0" width="0.95" height="4.2" fill="#ff0000"/>
<rect x="41.65" y="242.0" width="1.23" height="4.2" fill="#0000ff"/>
<rect x="42.78" y="242.0" width="0.38" height="4.2" fill="#ff0000"/>
<rect x="43.06" y="242.0" width="1.79" height="4.2" fill="#0000ff"/>
<rect x="44.75" y="242.0" width="0.38" height="4.2" fill="#00ff00"/>
<rect x="45.04" y="242.0" width="2.64" height="4.2" fill="#0000ff"/>
<rect x="47.57" y="242.0" width="0.38" height="4.2" fill="#ff0000"/>
<rect x="47.85" y="242.0" width="0.38" height="4.2" fill="#0000ff"/>
<rect x="48.14" y="242.0" width="0.66" height="4.2" fill="#ff0000"/>
<rect x="48.70" y="242.0" width="3.20" height="4.2" fill="#0000ff"/>
<rect x="51.80" y="242.0" width="0.38" height="4.2" fill="#ff0000"/>
<rect x="52.08" y="242.0" width="3.76" height="4.2" fill="#0000ff"/>
<rect x="55.75" y="242.0" width="0.38" height="4.2" fill="#ff0000"/>
<rect x="56.03" y="242.0" width="1.51" height="4.2" fill="#0000ff"/>
<rect x="57.44" y="242.0" width="0.95" height="4.2" fill="#ff0000"/>
<rect x="58.29" y="242.0" width="0.38" height="4.2" fill="#0000ff"/>
<rect x="58.57" y="242.0" width="0.95" height="4.2" fill="#ff0000"/>
<rect x="59.41" y="242.0" width="0.38" height="4.2" fill="#0000ff"/>
<rect x="59.70" y="242.0" width="0.38" height="4.2" fill="#ff0000"/>
<rect x="59.98" y="242.0" width="1.51" height="4.2" fill="#0000ff"/>
<rect x="61.39" y="242.0" width="0.38" height="4.2" fill="#ff0000"/>
<rect x="61.67" y="242.0" width="0.66" height="4.2" fill="#0000ff"/>
<rect x="62.23" y="242.0" width="0.66" height="4.2" fill="#ff0000"/>
<rect x="62.80" y="242.0" width="0.38" height="4.2" fill="#00ff00"/>
<rect x="63.08" y="242.0" width="0.38" height="4.2" fill="#0000ff"/>
<rect x="63.36" y="242.0" width="0.66" height="4.2" fill="#ff0000"/>
<rect x="63.92" y="242.0" width="0.66" height="4.2" fill="#00ff00"/>
<rect x="64.49" y="242.0" width="0.38" height="4.2" fill="#ff0000"/>
<rect x="64.77" y="242.0" width="0.66" height="4.2" fill="#0000ff"/>
<rect x="65.33" y="242.0" width="0.66" height="4.2" fill="#ff0000"/>
<rect x="65.90" y="242.0" width="1.79" height="4.2" fill="#0000ff"/>
<rect x="67.59" y="242.0" width="0.38" height="4.2" fill="#ff0000"/>
<rect x="67.87" y="242.0" width="1.23" height="4.2" fill="#0000ff"/>
<rect x="69.00" y="242.0" width="2.92" height="4.2" fill="#ff0000"/>
<rect x="71.82" y="242.0" width="2.92" height="4.2" fill="#0000ff"/>
<rect x="74.64" y="242.0" width="0.66" height="4.2" fill="#ff0000"/>
<rect x="75.20" y="242.0" width="0.66" height="4.2" fill="#0000ff"/>
<rect x="75.76" y="242.0" width="0.66" height="4.2" fill="#00ff00"/>
<rect x="76.33" y="242.0" width="0.38" height="4.2" fill="#0000ff"/>
<rect x="76.61" y="242.0" width="0.38" height="4.2" fill="#ff0000"/>
<rect x="76.89" y="242.0" width="2.64" height="4.2" fill="#0000ff"/>
<rect x="79.43" y="242.0" width="2.36" height="4.2" fill="#ff0000"/>
<rect x="81.68" y="242.0" width="0.38" height="4.2" fill="#0000ff"/>
<rect x="81.97" y="242.0" width="0.38" height="4.2" fill="#ff0000"/>
<rect x="82.25" y="242.0" width="0.66" height="4.2" fill="#0000ff"/>
<rect x="82.81" y="242.0" width="1.23" height="4.2" fill="#ff0000"/>
<rect x="83.94" y="242.0" width="0.38" height="4.2" fill="#0000ff"/>
<rect x="84.22" y="242.0" width="0.66" height="4.2" fill="#ff0000"/>
<rect x="84.79" y="242.0" width="1.79" height="4.2" fill="#0000ff"/>
<rect x="86.48" y="242.0" width="49.15" height="4.2" fill="#ff0000"/>
<rect x="135.53" y="242.0" width="0.38" height="4.2" fill="#0000ff"/>
<rect x="135.81" y="242.0" width="39.29" height="4.2" fill="#ff0000"/>
</g>
<rect x="22.2" y="247.8" width="152.8" height="4.1" fill="#4daf4a"/>
<g filter="url(#bh)">
<rect x="22.20" y="247.8" width="5.17" height="4.1" fill="#4daf4a"/>
<rect x="27.27" y="247.8" width="0.66" height="4.1" fill="#984ea3"/>
<rect x="27.84" y="247.8" width="4.61" height="4.1" fill="#4daf4a"/>
<rect x="32.35" y="247.8" width="0.66" height="4.1" fill="#377eb8"/>
<rect x="32.91" y="247.8" width="0.38" height="4.1" fill="#984ea3"/>
<rect x="33.19" y="247.8" width="0.38" height="4.1" fill="#4daf4a"/>
<rect x="33.48" y="247.8" width="0.38" height="4.1" fill="#984ea3"/>
<rect x="33.76" y="247.8" width="2.64" height="4.1" fill="#4daf4a"/>
<rect x="36.30" y="247.8" width="0.66" height="4.1" fill="#984ea3"/>
<rect x="36.86" y="247.8" width="2.92" height="4.1" fill="#4daf4a"/>
<rect x="39.68" y="247.8" width="1.23" height="4.1" fill="#e41a1c"/>
<rect x="40.81" y="247.8" width="1.51" height="4.1" fill="#4daf4a"/>
<rect x="42.22" y="247.8" width="0.38" height="4.1" fill="#e41a1c"/>
<rect x="42.50" y="247.8" width="0.66" height="4.1" fill="#984ea3"/>
<rect x="43.06" y="247.8" width="0.66" height="4.1" fill="#4daf4a"/>
<rect x="43.63" y="247.8" width="0.95" height="4.1" fill="#377eb8"/>
<rect x="44.47" y="247.8" width="4.89" height="4.1" fill="#4daf4a"/>
<rect x="49.26" y="247.8" width="0.66" height="4.1" fill="#377eb8"/>
<rect x="49.83" y="247.8" width="5.17" height="4.1" fill="#4daf4a"/>
<rect x="54.90" y="247.8" width="0.66" height="4.1" fill="#984ea3"/>
<rect x="55.47" y="247.8" width="12.22" height="4.1" fill="#4daf4a"/>
<rect x="67.59" y="247.8" width="0.38" height="4.1" fill="#377eb8"/>
<rect x="67.87" y="247.8" width="0.38" height="4.1" fill="#4daf4a"/>
<rect x="68.15" y="247.8" width="0.95" height="4.1" fill="#984ea3"/>
<rect x="69.00" y="247.8" width="0.38" height="4.1" fill="#377eb8"/>
<rect x="69.28" y="247.8" width="7.99" height="4.1" fill="#4daf4a"/>
<rect x="77.17" y="247.8" width="0.95" height="4.1" fill="#984ea3"/>
<rect x="78.02" y="247.8" width="0.38" height="4.1" fill="#377eb8"/>
<rect x="78.30" y="247.8" width="4.89" height="4.1" fill="#4daf4a"/>
<rect x="83.09" y="247.8" width="1.23" height="4.1" fill="#377eb8"/>
<rect x="84.22" y="247.8" width="3.20" height="4.1" fill="#4daf4a"/>
<rect x="87.32" y="247.8" width="0.38" height="4.1" fill="#e41a1c"/>
<rect x="87.61" y="247.8" width="0.38" height="4.1" fill="#4daf4a"/>
<rect x="87.89" y="247.8" width="0.38" height="4.1" fill="#e41a1c"/>
<rect x="88.17" y="247.8" width="0.66" height="4.1" fill="#377eb8"/>
<rect x="88.73" y="247.8" width="1.79" height="4.1" fill="#e41a1c"/>
<rect x="90.42" y="247.8" width="0.95" height="4.1" fill="#984ea3"/>
<rect x="91.27" y="247.8" width="0.38" height="4.1" fill="#4daf4a"/>
<rect x="91.55" y="247.8" width="0.38" height="4.1" fill="#984ea3"/>
<rect x="91.83" y="247.8" width="0.38" height="4.1" fill="#377eb8"/>
<rect x="92.12" y="247.8" width="0.38" height="4.1" fill="#e41a1c"/>
<rect x="92.40" y="247.8" width="0.38" height="4.1" fill="#4daf4a"/>
<rect x="92.68" y="247.8" width="4.61" height="4.1" fill="#e41a1c"/>
<rect x="97.19" y="247.8" width="0.38" height="4.1" fill="#377eb8"/>
<rect x="97.47" y="247.8" width="0.95" height="4.1" fill="#4daf4a"/>
<rect x="98.32" y="247.8" width="0.95" height="4.1" fill="#377eb8"/>
<rect x="99.16" y="247.8" width="0.66" height="4.1" fill="#4daf4a"/>
<rect x="99.73" y="247.8" width="0.38" height="4.1" fill="#e41a1c"/>
<rect x="100.01" y="247.8" width="0.38" height="4.1" fill="#4daf4a"/>
<rect x="100.29" y="247.8" width="0.38" height="4.1" fill="#377eb8"/>
<rect x="100.57" y="247.8" width="1.51" height="4.1" fill="#4daf4a"/>
<rect x="101.98" y="247.8" width="0.95" height="4.1" fill="#984ea3"/>
<rect x="102.83" y="247.8" width="0.38" height="4.1" fill="#4daf4a"/>
<rect x="103.11" y="247.8" width="0.38" height="4.1" fill="#377eb8"/>
<rect x="103.39" y="247.8" width="0.95" height="4.1" fill="#4daf4a"/>
<rect x="104.24" y="247.8" width="0.38" height="4.1" fill="#e41a1c"/>
<rect x="104.52" y="247.8" width="1.51" height="4.1" fill="#4daf4a"/>
<rect x="105.93" y="247.8" width="0.38" height="4.1" fill="#377eb8"/>
<rect x="106.21" y="247.8" width="1.51" height="4.1" fill="#4daf4a"/>
<rect x="107.62" y="247.8" width="2.07" height="4.1" fill="#e41a1c"/>
<rect x="109.59" y="247.8" width="0.38" height="4.1" fill="#377eb8"/>
<rect x="109.88" y="247.8" width="0.66" height="4.1" fill="#e41a1c"/>
<rect x="110.44" y="247.8" width="0.95" height="4.1" fill="#377eb8"/>
<rect x="111.29" y="247.8" width="0.95" height="4.1" fill="#e41a1c"/>
<rect x="112.13" y="247.8" width="0.95" height="4.1" fill="#4daf4a"/>
<rect x="112.98" y="247.8" width="0.38" height="4.1" fill="#377eb8"/>
<rect x="113.26" y="247.8" width="0.95" height="4.1" fill="#4daf4a"/>
<rect x="114.11" y="247.8" width="0.66" height="4.1" fill="#e41a1c"/>
<rect x="114.67" y="247.8" width="4.05" height="4.1" fill="#4daf4a"/>
<rect x="118.62" y="247.8" width="1.79" height="4.1" fill="#377eb8"/>
<rect x="120.31" y="247.8" width="0.38" height="4.1" fill="#4daf4a"/>
<rect x="120.59" y="247.8" width="1.51" height="4.1" fill="#e41a1c"/>
<rect x="122.00" y="247.8" width="0.38" height="4.1" fill="#4daf4a"/>
<rect x="122.28" y="247.8" width="0.38" height="4.1" fill="#377eb8"/>
<rect x="122.56" y="247.8" width="0.38" height="4.1" fill="#e41a1c"/>
<rect x="122.85" y="247.8" width="0.66" height="4.1" fill="#4daf4a"/>
<rect x="123.41" y="247.8" width="0.66" height="4.1" fill="#e41a1c"/>
<rect x="123.97" y="247.8" width="0.38" height="4.1" fill="#4daf4a"/>
<rect x="124.25" y="247.8" width="0.38" height="4.1" fill="#377eb8"/>
<rect x="124.54" y="247.8" width="1.51" height="4.1" fill="#4daf4a"/>
<rect x="125.95" y="247.8" width="0.66" height="4.1" fill="#984ea3"/>
<rect x="126.51" y="247.8" width="1.23" height="4.1" fill="#377eb8"/>
<rect x="127.64" y="247.8" width="0.95" height="4.1" fill="#e41a1c"/>
<rect x="128.48" y="247.8" width="0.38" height="4.1" fill="#377eb8"/>
<rect x="128.77" y="247.8" width="0.66" height="4.1" fill="#4daf4a"/>
<rect x="129.33" y="247.8" width="0.66" height="4.1" fill="#e41a1c"/>
<rect x="129.89" y="247.8" width="0.38" height="4.1" fill="#377eb8"/>
<rect x="130.17" y="247.8" width="0.66" height="4.1" fill="#4daf4a"/>
<rect x="130.74" y="247.8" width="0.38" height="4.1" fill="#984ea3"/>
<rect x="131.02" y="247.8" width="1.23" height="4.1" fill="#4daf4a"/>
<rect x="132.15" y="247.8" width="0.38" height="4.1" fill="#377eb8"/>
<rect x="132.43" y="247.8" width="2.92" height="4.1" fill="#4daf4a"/>
<rect x="135.25" y="247.8" width="0.66" height="4.1" fill="#e41a1c"/>
<rect x="135.81" y="247.8" width="1.23" height="4.1" fill="#4daf4a"/>
<rect x="136.94" y="247.8" width="1.51" height="4.1" fill="#377eb8"/>
<rect x="138.35" y="247.8" width="0.38" height="4.1" fill="#4daf4a"/>
<rect x="138.63" y="247.8" width="0.38" height="4.1" fill="#984ea3"/>
<rect x="138.91" y="247.8" width="1.23" height="4.1" fill="#e41a1c"/>
<rect x="140.04" y="247.8" width="0.66" height="4.1" fill="#984ea3"/>
<rect x="140.61" y="247.8" width="0.66" height="4.1" fill="#4daf4a"/>
<rect x="141.17" y="247.8" width="0.95" height="4.1" fill="#377eb8"/>
<rect x="142.02" y="247.8" width="0.95" height="4.1" fill="#e41a1c"/>
<rect x="142.86" y="247.8" width="1.23" height="4.1" fill="#4daf4a"/>
<rect x="143.99" y="247.8" width="2.36" height="4.1" fill="#377eb8"/>
<rect x="146.24" y="247.8" width="0.66" height="4.1" fill="#984ea3"/>
<rect x="146.81" y="247.8" width="0.38" height="4.1" fill="#4daf4a"/>
<rect x="147.09" y="247.8" width="0.38" height="4.1" fill="#e41a1c"/>
<rect x="147.37" y="247.8" width="0.95" height="4.1" fill="#4daf4a"/>
<rect x="148.22" y="247.8" width="0.38" height="4.1" fill="#377eb8"/>
<rect x="148.50" y="247.8" width="0.66" height="4.1" fill="#984ea3"/>
<rect x="149.06" y="247.8" width="3.48" height="4.1" fill="#e41a1c"/>
<rect x="152.45" y="247.8" width="1.51" height="4.1" fill="#984ea3"/>
<rect x="153.86" y="247.8" width="0.38" height="4.1" fill="#4daf4a"/>
<rect x="154.14" y="247.8" width="0.38" height="4.1" fill="#377eb8"/>
<rect x="154.42" y="247.8" width="1.23" height="4.1" fill="#4daf4a"/>
<rect x="155.55" y="247.8" width="0.95" height="4.1" fill="#377eb8"/>
<rect x="156.39" y="247.8" width="0.95" height="4.1" fill="#4daf4a"/>
<rect x="157.24" y="247.8" width="0.38" height="4.1" fill="#377eb8"/>
<rect x="157.52" y="247.8" width="4.33" height="4.1" fill="#4daf4a"/>
<rect x="161.75" y="247.8" width="0.38" height="4.1" fill="#377eb8"/>
<rect x="162.03" y="247.8" width="0.66" height="4.1" fill="#4daf4a"/>
<rect x="162.60" y="247.8" width="0.66" height="4.1" fill="#377eb8"/>
<rect x="163.16" y="247.8" width="0.95" height="4.1" fill="#984ea3"/>
<rect x="164.01" y="247.8" width="1.23" height="4.1" fill="#377eb8"/>
<rect x="165.13" y="247.8" width="0.95" height="4.1" fill="#e41a1c"/>
<rect x="165.98" y="247.8" width="0.66" height="4.1" fill="#377eb8"/>
<rect x="166.54" y="247.8" width="0.38" height="4.1" fill="#e41a1c"/>
<rect x="166.82" y="247.8" width="0.38" height="4.1" fill="#4daf4a"/>
<rect x="167.11" y="247.8" width="1.51" height="4.1" fill="#e41a1c"/>
<rect x="168.52" y="247.8" width="0.66" height="4.1" fill="#377eb8"/>
<rect x="169.08" y="247.8" width="0.66" height="4.1" fill="#e41a1c"/>
<rect x="169.64" y="247.8" width="2.07" height="4.1" fill="#984ea3"/>
<rect x="171.62" y="247.8" width="0.38" height="4.1" fill="#377eb8"/>
<rect x="171.90" y="247.8" width="0.38" height="4.1" fill="#4daf4a"/>
<rect x="172.18" y="247.8" width="0.66" height="4.1" fill="#e41a1c"/>
<rect x="172.74" y="247.8" width="2.36" height="4.1" fill="#377eb8"/>
</g>
<g filter="url(#bv)">
<rect x="5.0" y="253.20" width="4.6" height="0.70" fill="#ffa500"/>
<rect x="5.0" y="253.80" width="4.6" height="1.30" fill="#006400"/>
<rect x="5.0" y="255.00" width="4.6" height="3.69" fill="#ffa500"/>
<rect x="5.0" y="258.59" width="4.6" height="1.90" fill="#006400"/>
<rect x="5.0" y="260.39" width="4.6" height="0.40" fill="#ffa500"/>
<rect x="5.0" y="260.69" width="4.6" height="0.40" fill="#ff0000"/>
<rect x="5.0" y="260.99" width="4.6" height="0.70" fill="#ffa500"/>
<rect x="5.0" y="261.58" width="4.6" height="0.70" fill="#00008b"/>
<rect x="5.0" y="262.18" width="4.6" height="0.70" fill="#ffa500"/>
<rect x="5.0" y="262.78" width="4.6" height="0.70" fill="#006400"/>
<rect x="5.0" y="263.38" width="4.6" height="1.00" fill="#ffa500"/>
<rect x="5.0" y="264.28" width="4.6" height="0.70" fill="#006400"/>
<rect x="5.0" y="264.88" width="4.6" height="0.40" fill="#ffa500"/>
<rect x="5.0" y="265.18" width="4.6" height="0.70" fill="#ff0000"/>
<rect x="5.0" y="265.78" width="4.6" height="1.00" fill="#006400"/>
<rect x="5.0" y="266.68" width="4.6" height="0.70" fill="#ffa500"/>
<rect x="5.0" y="267.27" width="4.6" height="0.40" fill="#ff0000"/>
<rect x="5.0" y="267.57" width="4.6" height="0.70" fill="#ffa500"/>
<rect x="5.0" y="268.17" width="4.6" height="0.40" fill="#006400"/>
<rect x="5.0" y="268.47" width="4.6" height="0.70" fill="#ffa500"/>
<rect x="5.0" y="269.07" width="4.6" height="0.40" fill="#ff0000"/>
<rect x="5.0" y="269.37" width="4.6" height="0.70" fill="#006400"/>
<rect x="5.0" y="269.97" width="4.6" height="2.20" fill="#ffa500"/>
<rect x="5.0" y="272.07" width="4.6" height="0.40" fill="#ff0000"/>
<rect x="5.0" y="272.36" width="4.6" height="0.70" fill="#00008b"/>
<rect x="5.0" y="272.96" width="4.6" height="1.30" fill="#ffa500"/>
<rect x="5.0" y="274.16" width="4.6" height="0.40" fill="#006400"/>
<rect x="5.0" y="274.46" width="4.6" height="0.70" fill="#ff0000"/>
<rect x="5.0" y="275.06" width="4.6" height="0.40" fill="#006400"/>
<rect x="5.0" y="275.36" width="4.6" height="1.00" fill="#ffa500"/>
<rect x="5.0" y="276.26" width="4.6" height="1.90" fill="#006400"/>
<rect x="5.0" y="278.05" width="4.6" height="1.90" fill="#ffa500"/>
<rect x="5.0" y="279.85" width="4.6" height="2.80" fill="#006400"/>
<rect x="5.0" y="282.55" width="4.6" height="1.00" fill="#00008b"/>
<rect x="5.0" y="283.44" width="4.6" height="2.80" fill="#006400"/>
<rect x="5.0" y="286.14" width="4.6" height="1.00" fill="#ffa500"/>
<rect x="5.0" y="287.04" width="4.6" height="0.40" fill="#ff0000"/>
<rect x="5.0" y="287.34" width="4.6" height="0.40" fill="#006400"/>
<rect x="5.0" y="287.64" width="4.6" height="0.40" fill="#ffa500"/>
<rect x="5.0" y="287.94" width="4.6" height="0.70" fill="#006400"/>
<rect x="5.0" y="288.53" width="4.6" height="0.70" fill="#ff0000"/>
<rect x="5.0" y="289.13" width="4.6" height="0.40" fill="#00008b"/>
<rect x="5.0" y="289.43" width="4.6" height="1.30" fill="#006400"/>
<rect x="5.0" y="290.63" width="4.6" height="0.70" fill="#ff0000"/>
<rect x="5.0" y="291.23" width="4.6" height="0.40" fill="#006400"/>
<rect x="5.0" y="291.53" width="4.6" height="0.40" fill="#ffa500"/>
<rect x="5.0" y="291.83" width="4.6" height="1.30" fill="#006400"/>
<rect x="5.0" y="293.03" width="4.6" height="0.40" fill="#ff0000"/>
<rect x="5.0" y="293.33" width="4.6" height="1.60" fill="#006400"/>
<rect x="5.0" y="294.82" width="4.6" height="0.40" fill="#ffa500"/>
<rect x="5.0" y="295.12" width="4.6" height="1.00" fill="#006400"/>
<rect x="5.0" y="296.02" width="4.6" height="0.40" fill="#00008b"/>
<rect x="5.0" y="296.32" width="4.6" height="0.40" fill="#ffa500"/>
<rect x="5.0" y="296.62" width="4.6" height="0.40" fill="#006400"/>
<rect x="5.0" y="296.92" width="4.6" height="0.40" fill="#ffa500"/>
<rect x="5.0" y="297.22" width="4.6" height="0.70" fill="#ff0000"/>
<rect x="5.0" y="297.82" width="4.6" height="0.70" fill="#ffa500"/>
<rect x="5.0" y="298.42" width="4.6" height="0.70" fill="#006400"/>
<rect x="5.0" y="299.02" width="4.6" height="0.40" fill="#ffa500"/>
<rect x="5.0" y="299.31" width="4.6" height="0.70" fill="#006400"/>
<rect x="5.0" y="299.91" width="4.6" height="0.40" fill="#ffa500"/>
<rect x="5.0" y="300.21" width="4.6" height="1.30" fill="#006400"/>
<rect x="5.0" y="301.41" width="4.6" height="1.00" fill="#ffa500"/>
<rect x="5.0" y="302.31" width="4.6" height="1.60" fill="#006400"/>
<rect x="5.0" y="303.81" width="4.6" height="0.40" fill="#ffa500"/>
<rect x="5.0" y="304.11" width="4.6" height="1.00" fill="#ff0000"/>
<rect x="5.0" y="305.00" width="4.6" height="0.70" fill="#006400"/>
<rect x="5.0" y="305.60" width="4.6" height="0.40" fill="#ffa500"/>
<rect x="5.0" y="305.90" width="4.6" height="1.30" fill="#ff0000"/>
<rect x="5.0" y="307.10" width="4.6" height="0.70" fill="#ffa500"/>
<rect x="5.0" y="307.70" width="4.6" height="1.30" fill="#006400"/>
<rect x="5.0" y="308.90" width="4.6" height="1.60" fill="#ffa500"/>
<rect x="5.0" y="310.39" width="4.6" height="1.00" fill="#006400"/>
<rect x="5.0" y="311.29" width="4.6" height="0.40" fill="#ffa500"/>
<rect x="5.0" y="311.59" width="4.6" height="1.00" fill="#006400"/>
<rect x="5.0" y="312.49" width="4.6" height="0.40" fill="#ffa500"/>
<rect x="5.0" y="312.79" width="4.6" height="0.40" fill="#006400"/>
<rect x="5.0" y="313.09" width="4.6" height="0.40" fill="#ffa500"/>
<rect x="5.0" y="313.39" width="4.6" height="0.70" fill="#006400"/>
<rect x="5.0" y="313.99" width="4.6" height="2.20" fill="#ff0000"/>
<rect x="5.0" y="316.08" width="4.6" height="0.40" fill="#006400"/>
<rect x="5.0" y="316.38" width="4.6" height="0.40" fill="#ffa500"/>
<rect x="5.0" y="316.68" width="4.6" height="1.60" fill="#006400"/>
<rect x="5.0" y="318.18" width="4.6" height="0.70" fill="#ffa500"/>
<rect x="5.0" y="318.78" width="4.6" height="0.70" fill="#ff0000"/>
<rect x="5.0" y="319.38" width="4.6" height="0.70" fill="#006400"/>
<rect x="5.0" y="319.98" width="4.6" height="1.30" fill="#ff0000"/>
<rect x="5.0" y="321.17" width="4.6" height="0.40" fill="#ffa500"/>
<rect x="5.0" y="321.47" width="4.6" height="0.40" fill="#006400"/>
<rect x="5.0" y="321.77" width="4.6" height="0.40" fill="#ffa500"/>
<rect x="5.0" y="322.07" width="4.6" height="1.30" fill="#006400"/>
<rect x="5.0" y="323.27" width="4.6" height="1.30" fill="#ff0000"/>
<rect x="5.0" y="324.47" width="4.6" height="2.50" fill="#006400"/>
<rect x="5.0" y="326.86" width="4.6" height="0.40" fill="#00008b"/>
<rect x="5.0" y="327.16" width="4.6" height="1.00" fill="#006400"/>
<rect x="5.0" y="328.06" width="4.6" height="0.40" fill="#ffa500"/>
<rect x="5.0" y="328.36" width="4.6" height="1.90" fill="#006400"/>
<rect x="5.0" y="330.16" width="4.6" height="0.40" fill="#00008b"/>
<rect x="5.0" y="330.46" width="4.6" height="3.39" fill="#006400"/>
<rect x="5.0" y="333.75" width="4.6" height="0.40" fill="#ff0000"/>
<rect x="5.0" y="334.05" width="4.6" height="0.70" fill="#006400"/>
<rect x="5.0" y="334.65" width="4.6" height="1.00" fill="#00008b"/>
<rect x="5.0" y="335.55" width="4.6" height="0.70" fill="#006400"/>
<rect x="5.0" y="336.15" width="4.6" height="0.40" fill="#ff0000"/>
<rect x="5.0" y="336.45" width="4.6" height="4.59" fill="#006400"/>
<rect x="5.0" y="340.94" width="4.6" height="0.40" fill="#00008b"/>
<rect x="5.0" y="341.24" width="4.6" height="1.90" fill="#006400"/>
<rect x="5.0" y="343.03" width="4.6" height="0.40" fill="#ff0000"/>
<rect x="5.0" y="343.33" width="4.6" height="2.50" fill="#006400"/>
<rect x="5.0" y="345.73" width="4.6" height="0.40" fill="#00008b"/>
<rect x="5.0" y="346.03" width="4.6" height="3.09" fill="#006400"/>
<rect x="5.0" y="349.02" width="4.6" height="0.70" fill="#ffa500"/>
<rect x="5.0" y="349.62" width="4.6" height="3.69" fill="#006400"/>
<rect x="5.0" y="353.22" width="4.6" height="0.40" fill="#00008b"/>
<rect x="5.0" y="353.51" width="4.6" height="0.70" fill="#006400"/>
<rect x="5.0" y="354.11" width="4.6" height="1.00" fill="#ff0000"/>
<rect x="5.0" y="355.01" width="4.6" height="1.30" fill="#006400"/>
<rect x="5.0" y="356.21" width="4.6" height="0.40" fill="#00008b"/>
<rect x="5.0" y="356.51" width="4.6" height="2.50" fill="#006400"/>
<rect x="5.0" y="358.90" width="4.6" height="0.70" fill="#00008b"/>
<rect x="5.0" y="359.50" width="4.6" height="1.00" fill="#006400"/>
<rect x="5.0" y="360.40" width="4.6" height="0.70" fill="#ffa500"/>
<rect x="5.0" y="361.00" width="4.6" height="0.40" fill="#ff0000"/>
<rect x="5.0" y="361.30" width="4.6" height="1.90" fill="#006400"/>
<rect x="5.0" y="363.10" width="4.6" height="0.40" fill="#ff0000"/>
<rect x="5.0" y="363.40" width="4.6" height="7.59" fill="#006400"/>
<rect x="5.0" y="370.88" width="4.6" height="0.40" fill="#ffa500"/>
<rect x="5.0" y="371.18" width="4.6" height="1.90" fill="#006400"/>
<rect x="5.0" y="372.98" width="4.6" height="0.40" fill="#ff0000"/>
<rect x="5.0" y="373.28" width="4.6" height="4.29" fill="#006400"/>
<rect x="5.0" y="377.47" width="4.6" height="0.70" fill="#ffa500"/>
<rect x="5.0" y="378.07" width="4.6" height="0.40" fill="#006400"/>
<rect x="5.0" y="378.37" width="4.6" height="0.40" fill="#ffa500"/>
<rect x="5.0" y="378.67" width="4.6" height="0.70" fill="#006400"/>
<rect x="5.0" y="379.27" width="4.6" height="0.40" fill="#ffa500"/>
<rect x="5.0" y="379.57" width="4.6" height="6.69" fill="#006400"/>
<rect x="5.0" y="386.15" width="4.6" height="0.70" fill="#ffa500"/>
<rect x="5.0" y="386.75" width="4.6" height="0.40" fill="#006400"/>
<rect x="5.0" y="387.05" width="4.6" height="1.00" fill="#ffa500"/>
<rect x="5.0" y="387.95" width="4.6" height="2.80" fill="#006400"/>
<rect x="5.0" y="390.65" width="4.6" height="0.70" fill="#ffa500"/>
<rect x="5.0" y="391.24" width="4.6" height="1.00" fill="#006400"/>
<rect x="5.0" y="392.14" width="4.6" height="0.40" fill="#ff0000"/>
<rect x="5.0" y="392.44" width="4.6" height="7.29" fill="#006400"/>
<rect x="5.0" y="399.63" width="4.6" height="0.40" fill="#00008b"/>
<rect x="5.0" y="399.93" width="4.6" height="0.40" fill="#ffa500"/>
<rect x="5.0" y="400.23" width="4.6" height="3.09" fill="#006400"/>
<rect x="5.0" y="403.22" width="4.6" height="0.40" fill="#ffa500"/>
<rect x="5.0" y="403.52" width="4.6" height="1.00" fill="#006400"/>
<rect x="5.0" y="404.42" width="4.6" height="0.70" fill="#00008b"/>
<rect x="5.0" y="405.02" width="4.6" height="2.80" fill="#006400"/>
<rect x="5.0" y="407.71" width="4.6" height="0.40" fill="#ff0000"/>
<rect x="5.0" y="408.01" width="4.6" height="5.49" fill="#006400"/>
<rect x="5.0" y="413.40" width="4.6" height="0.40" fill="#ffa500"/>
<rect x="5.0" y="413.70" width="4.6" height="1.90" fill="#006400"/>
</g>
<g filter="url(#bv)">
<rect x="11.0" y="253.20" width="4.1" height="5.49" fill="#ff0000"/>
<rect x="11.0" y="258.59" width="4.1" height="6.09" fill="#0000ff"/>
<rect x="11.0" y="264.58" width="4.1" height="6.09" fill="#ff0000"/>
<rect x="11.0" y="270.57" width="4.1" height="1.00" fill="#0000ff"/>
<rect x="11.0" y="271.47" width="4.1" height="1.00" fill="#ff0000"/>
<rect x="11.0" y="272.36" width="4.1" height="0.70" fill="#0000ff"/>
<rect x="11.0" y="272.96" width="4.1" height="1.00" fill="#ff0000"/>
<rect x="11.0" y="273.86" width="4.1" height="1.30" fill="#0000ff"/>
<rect x="11.0" y="275.06" width="4.1" height="0.40" fill="#ff0000"/>
<rect x="11.0" y="275.36" width="4.1" height="1.90" fill="#0000ff"/>
<rect x="11.0" y="277.16" width="4.1" height="0.40" fill="#00ff00"/>
<rect x="11.0" y="277.46" width="4.1" height="2.80" fill="#0000ff"/>
<rect x="11.0" y="280.15" width="4.1" height="0.40" fill="#ff0000"/>
<rect x="11.0" y="280.45" width="4.1" height="0.40" fill="#0000ff"/>
<rect x="11.0" y="280.75" width="4.1" height="0.70" fill="#ff0000"/>
<rect x="11.0" y="281.35" width="4.1" height="3.39" fill="#0000ff"/>
<rect x="11.0" y="284.64" width="4.1" height="0.40" fill="#ff0000"/>
<rect x="11.0" y="284.94" width="4.1" height="3.99" fill="#0000ff"/>
<rect x="11.0" y="288.83" width="4.1" height="0.40" fill="#ff0000"/>
<rect x="11.0" y="289.13" width="4.1" height="1.60" fill="#0000ff"/>
<rect x="11.0" y="290.63" width="4.1" height="1.00" fill="#ff0000"/>
<rect x="11.0" y="291.53" width="4.1" height="0.40" fill="#0000ff"/>
<rect x="11.0" y="291.83" width="4.1" height="1.00" fill="#ff0000"/>
<rect x="11.0" y="292.73" width="4.1" height="0.40" fill="#0000ff"/>
<rect x="11.0" y="293.03" width="4.1" height="0.40" fill="#ff0000"/>
<rect x="11.0" y="293.33" width="4.1" height="1.60" fill="#0000ff"/>
<rect x="11.0" y="294.82" width="4.1" height="0.40" fill="#ff0000"/>
<rect x="11.0" y="295.12" width="4.1" height="0.70" fill="#0000ff"/>
<rect x="11.0" y="295.72" width="4.1" height="0.70" fill="#ff0000"/>
<rect x="11.0" y="296.32" width="4.1" height="0.40" fill="#00ff00"/>
<rect x="11.0" y="296.62" width="4.1" height="0.40" fill="#0000ff"/>
<rect x="11.0" y="296.92" width="4.1" height="0.70" fill="#ff0000"/>
<rect x="11.0" y="297.52" width="4.1" height="0.70" fill="#00ff00"/>
<rect x="11.0" y="298.12" width="4.1" height="0.40" fill="#ff0000"/>
<rect x="11.0" y="298.42" width="4.1" height="0.70" fill="#0000ff"/>
<rect x="11.0" y="299.02" width="4.1" height="0.70" fill="#ff0000"/>
<rect x="11.0" y="299.61" width="4.1" height="1.90" fill="#0000ff"/>
<rect x="11.0" y="301.41" width="4.1" height="0.40" fill="#ff0000"/>
<rect x="11.0" y="301.71" width="4.1" height="1.30" fill="#0000ff"/>
<rect x="11.0" y="302.91" width="4.1" height="3.09" fill="#ff0000"/>
<rect x="11.0" y="305.90" width="4.1" height="3.09" fill="#0000ff"/>
<rect x="11.0" y="308.90" width="4.1" height="0.70" fill="#ff0000"/>
<rect x="11.0" y="309.50" width="4.1" height="0.70" fill="#0000ff"/>
<rect x="11.0" y="310.09" width="4.1" height="0.70" fill="#00ff00"/>
<rect x="11.0" y="310.69" width="4.1" height="0.40" fill="#0000ff"/>
<rect x="11.0" y="310.99" width="4.1" height="0.40" fill="#ff0000"/>
<rect x="11.0" y="311.29" width="4.1" height="2.80" fill="#0000ff"/>
<rect x="11.0" y="313.99" width="4.1" height="2.50" fill="#ff0000"/>
<rect x="11.0" y="316.38" width="4.1" height="0.40" fill="#0000ff"/>
<rect x="11.0" y="316.68" width="4.1" height="0.40" fill="#ff0000"/>
<rect x="11.0" y="316.98" width="4.1" height="0.70" fill="#0000ff"/>
<rect x="11.0" y="317.58" width="4.1" height="1.30" fill="#ff0000"/>
<rect x="11.0" y="318.78" width="4.1" height="0.40" fill="#0000ff"/>
<rect x="11.0" y="319.08" width="4.1" height="0.70" fill="#ff0000"/>
<rect x="11.0" y="319.68" width="4.1" height="1.90" fill="#0000ff"/>
<rect x="11.0" y="321.47" width="4.1" height="52.20" fill="#ff0000"/>
<rect x="11.0" y="373.58" width="4.1" height="0.40" fill="#0000ff"/>
<rect x="11.0" y="373.88" width="4.1" height="41.72" fill="#ff0000"/>
</g>
<g filter="url(#bv)">
<rect x="16.6" y="253.20" width="4.4" height="5.49" fill="#4daf4a"/>
<rect x="16.6" y="258.59" width="4.4" height="0.70" fill="#984ea3"/>
<rect x="16.6" y="259.19" width="4.4" height="4.89" fill="#4daf4a"/>
<rect x="16.6" y="263.98" width="4.4" height="0.70" fill="#377eb8"/>
<rect x="16.6" y="264.58" width="4.4" height="0.40" fill="#984ea3"/>
<rect x="16.6" y="264.88" width="4.4" height="0.40" fill="#4daf4a"/>
<rect x="16.6" y="265.18" width="4.4" height="0.40" fill="#984ea3"/>
<rect x="16.6" y="265.48" width="4.4" height="2.80" fill="#4daf4a"/>
<rect x="16.6" y="268.17" width="4.4" height="0.70" fill="#984ea3"/>
<rect x="16.6" y="268.77" width="4.4" height="3.09" fill="#4daf4a"/>
<rect x="16.6" y="271.77" width="4.4" height="1.30" fill="#e41a1c"/>
<rect x="16.6" y="272.96" width="4.4" height="1.60" fill="#4daf4a"/>
<rect x="16.6" y="274.46" width="4.4" height="0.40" fill="#e41a1c"/>
<rect x="16.6" y="274.76" width="4.4" height="0.70" fill="#984ea3"/>
<rect x="16.6" y="275.36" width="4.4" height="0.70" fill="#4daf4a"/>
<rect x="16.6" y="275.96" width="4.4" height="1.00" fill="#377eb8"/>
<rect x="16.6" y="276.86" width="4.4" height="5.19" fill="#4daf4a"/>
<rect x="16.6" y="281.95" width="4.4" height="0.70" fill="#377eb8"/>
<rect x="16.6" y="282.55" width="4.4" height="5.49" fill="#4daf4a"/>
<rect x="16.6" y="287.94" width="4.4" height="0.70" fill="#984ea3"/>
<rect x="16.6" y="288.53" width="4.4" height="12.98" fill="#4daf4a"/>
<rect x="16.6" y="301.41" width="4.4" height="0.40" fill="#377eb8"/>
<rect x="16.6" y="301.71" width="4.4" height="0.40" fill="#4daf4a"/>
<rect x="16.6" y="302.01" width="4.4" height="1.00" fill="#984ea3"/>
<rect x="16.6" y="302.91" width="4.4" height="0.40" fill="#377eb8"/>
<rect x="16.6" y="303.21" width="4.4" height="8.48" fill="#4daf4a"/>
<rect x="16.6" y="311.59" width="4.4" height="1.00" fill="#984ea3"/>
<rect x="16.6" y="312.49" width="4.4" height="0.40" fill="#377eb8"/>
<rect x="16.6" y="312.79" width="4.4" height="5.19" fill="#4daf4a"/>
<rect x="16.6" y="317.88" width="4.4" height="1.30" fill="#377eb8"/>
<rect x="16.6" y="319.08" width="4.4" height="3.39" fill="#4daf4a"/>
<rect x="16.6" y="322.37" width="4.4" height="0.40" fill="#e41a1c"/>
<rect x="16.6" y="322.67" width="4.4" height="0.40" fill="#4daf4a"/>
<rect x="16.6" y="322.97" width="4.4" height="0.40" fill="#e41a1c"/>
<rect x="16.6" y="323.27" width="4.4" height="0.70" fill="#377eb8"/>
<rect x="16.6" y="323.87" width="4.4" height="1.90" fill="#e41a1c"/>
<rect x="16.6" y="325.67" width="4.4" height="1.00" fill="#984ea3"/>
<rect x="16.6" y="326.56" width="4.4" height="0.40" fill="#4daf4a"/>
<rect x="16.6" y="326.86" width="4.4" height="0.40" fill="#984ea3"/>
<rect x="16.6" y="327.16" width="4.4" height="0.40" fill="#377eb8"/>
<rect x="16.6" y="327.46" width="4.4" height="0.40" fill="#e41a1c"/>
<rect x="16.6" y="327.76" width="4.4" height="0.40" fill="#4daf4a"/>
<rect x="16.6" y="328.06" width="4.4" height="4.89" fill="#e41a1c"/>
<rect x="16.6" y="332.85" width="4.4" height="0.40" fill="#377eb8"/>
<rect x="16.6" y="333.15" width="4.4" height="1.00" fill="#4daf4a"/>
<rect x="16.6" y="334.05" width="4.4" height="1.00" fill="#377eb8"/>
<rect x="16.6" y="334.95" width="4.4" height="0.70" fill="#4daf4a"/>
<rect x="16.6" y="335.55" width="4.4" height="0.40" fill="#e41a1c"/>
<rect x="16.6" y="335.85" width="4.4" height="0.40" fill="#4daf4a"/>
<rect x="16.6" y="336.15" width="4.4" height="0.40" fill="#377eb8"/>
<rect x="16.6" y="336.45" width="4.4" height="1.60" fill="#4daf4a"/>
<rect x="16.6" y="337.94" width="4.4" height="1.00" fill="#984ea3"/>
<rect x="16.6" y="338.84" width="4.4" height="0.40" fill="#4daf4a"/>
<rect x="16.6" y="339.14" width="4.4" height="0.40" fill="#377eb8"/>
<rect x="16.6" y="339.44" width="4.4" height="1.00" fill="#4daf4a"/>
<rect x="16.6" y="340.34" width="4.4" height="0.40" fill="#e41a1c"/>
<rect x="16.6" y="340.64" width="4.4" height="1.60" fill="#4daf4a"/>
<rect x="16.6" y="342.14" width="4.4" height="0.40" fill="#377eb8"/>
<rect x="16.6" y="342.44" width="4.4" height="1.60" fill="#4daf4a"/>
<rect x="16.6" y="343.93" width="4.4" height="2.20" fill="#e41a1c"/>
<rect x="16.6" y="346.03" width="4.4" height="0.40" fill="#377eb8"/>
<rect x="16.6" y="346.33" width="4.4" height="0.70" fill="#e41a1c"/>
<rect x="16.6" y="346.93" width="4.4" height="1.00" fill="#377eb8"/>
<rect x="16.6" y="347.83" width="4.4" height="1.00" fill="#e41a1c"/>
<rect x="16.6" y="348.72" width="4.4" height="1.00" fill="#4daf4a"/>
<rect x="16.6" y="349.62" width="4.4" height="0.40" fill="#377eb8"/>
<rect x="16.6" y="349.92" width="4.4" height="1.00" fill="#4daf4a"/>
<rect x="16.6" y="350.82" width="4.4" height="0.70" fill="#e41a1c"/>
<rect x="16.6" y="351.42" width="4.4" height="4.29" fill="#4daf4a"/>
<rect x="16.6" y="355.61" width="4.4" height="1.90" fill="#377eb8"/>
<rect x="16.6" y="357.41" width="4.4" height="0.40" fill="#4daf4a"/>
<rect x="16.6" y="357.71" width="4.4" height="1.60" fill="#e41a1c"/>
<rect x="16.6" y="359.20" width="4.4" height="0.40" fill="#4daf4a"/>
<rect x="16.6" y="359.50" width="4.4" height="0.40" fill="#377eb8"/>
<rect x="16.6" y="359.80" width="4.4" height="0.40" fill="#e41a1c"/>
<rect x="16.6" y="360.10" width="4.4" height="0.70" fill="#4daf4a"/>
<rect x="16.6" y="360.70" width="4.4" height="0.70" fill="#e41a1c"/>
<rect x="16.6" y="361.30" width="4.4" height="0.40" fill="#4daf4a"/>
<rect x="16.6" y="361.60" width="4.4" height="0.40" fill="#377eb8"/>
<rect x="16.6" y="361.90" width="4.4" height="1.60" fill="#4daf4a"/>
<rect x="16.6" y="363.40" width="4.4" height="0.70" fill="#984ea3"/>
<rect x="16.6" y="364.00" width="4.4" height="1.30" fill="#377eb8"/>
<rect x="16.6" y="365.19" width="4.4" height="1.00" fill="#e41a1c"/>
<rect x="16.6" y="366.09" width="4.4" height="0.40" fill="#377eb8"/>
<rect x="16.6" y="366.39" width="4.4" height="0.70" fill="#4daf4a"/>
<rect x="16.6" y="366.99" width="4.4" height="0.70" fill="#e41a1c"/>
<rect x="16.6" y="367.59" width="4.4" height="0.40" fill="#377eb8"/>
<rect x="16.6" y="367.89" width="4.4" height="0.70" fill="#4daf4a"/>
<rect x="16.6" y="368.49" width="4.4" height="0.40" fill="#984ea3"/>
<rect x="16.6" y="368.79" width="4.4" height="1.30" fill="#4daf4a"/>
<rect x="16.6" y="369.98" width="4.4" height="0.40" fill="#377eb8"/>
<rect x="16.6" y="370.28" width="4.4" height="3.09" fill="#4daf4a"/>
<rect x="16.6" y="373.28" width="4.4" height="0.70" fill="#e41a1c"/>
<rect x="16.6" y="373.88" width="4.4" height="1.30" fill="#4daf4a"/>
<rect x="16.6" y="375.07" width="4.4" height="1.60" fill="#377eb8"/>
<rect x="16.6" y="376.57" width="4.4" height="0.40" fill="#4daf4a"/>
<rect x="16.6" y="376.87" width="4.4" height="0.40" fill="#984ea3"/>
<rect x="16.6" y="377.17" width="4.4" height="1.30" fill="#e41a1c"/>
<rect x="16.6" y="378.37" width="4.4" height="0.70" fill="#984ea3"/>
<rect x="16.6" y="378.97" width="4.4" height="0.70" fill="#4daf4a"/>
<rect x="16.6" y="379.57" width="4.4" height="1.00" fill="#377eb8"/>
<rect x="16.6" y="380.46" width="4.4" height="1.00" fill="#e41a1c"/>
<rect x="16.6" y="381.36" width="4.4" height="1.30" fill="#4daf4a"/>
<rect x="16.6" y="382.56" width="4.4" height="2.50" fill="#377eb8"/>
<rect x="16.6" y="384.96" width="4.4" height="0.70" fill="#984ea3"/>
<rect x="16.6" y="385.56" width="4.4" height="0.40" fill="#4daf4a"/>
<rect x="16.6" y="385.85" width="4.4" height="0.40" fill="#e41a1c"/>
<rect x="16.6" y="386.15" width="4.4" height="1.00" fill="#4daf4a"/>
<rect x="16.6" y="387.05" width="4.4" height="0.40" fill="#377eb8"/>
<rect x="16.6" y="387.35" width="4.4" height="0.70" fill="#984ea3"/>
<rect x="16.6" y="387.95" width="4.4" height="3.69" fill="#e41a1c"/>
<rect x="16.6" y="391.54" width="4.4" height="1.60" fill="#984ea3"/>
<rect x="16.6" y="393.04" width="4.4" height="0.40" fill="#4daf4a"/>
<rect x="16.6" y="393.34" width="4.4" height="0.40" fill="#377eb8"/>
<rect x="16.6" y="393.64" width="4.4" height="1.30" fill="#4daf4a"/>
<rect x="16.6" y="394.84" width="4.4" height="1.00" fill="#377eb8"/>
<rect x="16.6" y="395.74" width="4.4" height="1.00" fill="#4daf4a"/>
<rect x="16.6" y="396.63" width="4.4" height="0.40" fill="#377eb8"/>
<rect x="16.6" y="396.93" width="4.4" height="4.59" fill="#4daf4a"/>
<rect x="16.6" y="401.43" width="4.4" height="0.40" fill="#377eb8"/>
<rect x="16.6" y="401.73" width="4.4" height="0.70" fill="#4daf4a"/>
<rect x="16.6" y="402.32" width="4.4" height="0.70" fill="#377eb8"/>
<rect x="16.6" y="402.92" width="4.4" height="1.00" fill="#984ea3"/>
<rect x="16.6" y="403.82" width="4.4" height="1.30" fill="#377eb8"/>
<rect x="16.6" y="405.02" width="4.4" height="1.00" fill="#e41a1c"/>
<rect x="16.6" y="405.92" width="4.4" height="0.70" fill="#377eb8"/>
<rect x="16.6" y="406.52" width="4.4" height="0.40" fill="#e41a1c"/>
<rect x="16.6" y="406.82" width="4.4" height="0.40" fill="#4daf4a"/>
<rect x="16.6" y="407.12" width="4.4" height="1.60" fill="#e41a1c"/>
<rect x="16.6" y="408.61" width="4.4" height="0.70" fill="#377eb8"/>
<rect x="16.6" y="409.21" width="4.4" height="0.70" fill="#e41a1c"/>
<rect x="16.6" y="409.81" width="4.4" height="2.20" fill="#984ea3"/>
<rect x="16.6" y="411.91" width="4.4" height="0.40" fill="#377eb8"/>
<rect x="16.6" y="412.21" width="4.4" height="0.40" fill="#4daf4a"/>
<rect x="16.6" y="412.51" width="4.4" height="0.70" fill="#e41a1c"/>
<rect x="16.6" y="413.10" width="4.4" height="2.50" fill="#377eb8"/>
</g>
</g>
<rect x="181" y="253.60" width="6" height="7.26" fill="#a50026"/>
<rect x="181" y="260.76" width="6" height="7.26" fill="#c61f2a"/>
<rect x="181" y="267.92" width="6" height="7.26" fill="#e34a33"/>
<rect x="181" y="275.07" width="6" height="7.26" fill="#f67e4b"/>
<rect x="181" y="282.23" width="6" height="7.26" fill="#fcb365"/>
<rect x="181" y="289.39" width="6" height="7.26" fill="#fee39b"/>
<rect x="181" y="296.55" width="6" height="7.26" fill="#f6f8c6"/>
<rect x="181" y="303.71" width="6" height="7.26" fill="#dbeff5"/>
<rect x="181" y="310.87" width="6" height="7.26" fill="#b2dbea"/>
<rect x="181" y="318.02" width="6" height="7.26" fill="#85bcd9"/>
<rect x="181" y="325.18" width="6" height="7.26" fill="#4f86bb"/>
<rect x="181" y="332.34" width="6" height="7.26" fill="#313695"/>
<text x="188.2" y="256.59999999999997" font-size="8.3" fill="#2a2a2a" text-anchor="start" textLength="4.28" lengthAdjust="spacingAndGlyphs" stroke="#2a2a2a" stroke-width="0.14">1</text>
<text x="188.2" y="273.9" font-size="8.3" fill="#2a2a2a" text-anchor="start" textLength="10.7" lengthAdjust="spacingAndGlyphs" stroke="#2a2a2a" stroke-width="0.14">0.8</text>
<text x="188.2" y="291.2" font-size="8.3" fill="#2a2a2a" text-anchor="start" textLength="10.7" lengthAdjust="spacingAndGlyphs" stroke="#2a2a2a" stroke-width="0.14">0.6</text>
<text x="188.2" y="308.5" font-size="8.3" fill="#2a2a2a" text-anchor="start" textLength="10.7" lengthAdjust="spacingAndGlyphs" stroke="#2a2a2a" stroke-width="0.14">0.4</text>
<text x="188.2" y="325.79999999999995" font-size="8.3" fill="#2a2a2a" text-anchor="start" textLength="10.7" lengthAdjust="spacingAndGlyphs" stroke="#2a2a2a" stroke-width="0.14">0.2</text>
<text x="188.2" y="342.4" font-size="8.3" fill="#2a2a2a" text-anchor="start" textLength="4.28" lengthAdjust="spacingAndGlyphs" stroke="#2a2a2a" stroke-width="0.14">0</text>
<text x="217.8" y="259.0" font-size="8.0" fill="#111" text-anchor="start" font-weight="bold" textLength="52.6" lengthAdjust="spacingAndGlyphs" stroke="#111" stroke-width="0.3">clinical_stage</text>
<rect x="217.5" y="262.00" width="5.4" height="5.4" fill="#006400"/>
<text x="225.0" y="267.6" font-size="8.5" fill="#2a2a2a" text-anchor="start" textLength="27.4" lengthAdjust="spacingAndGlyphs" stroke="#2a2a2a" stroke-width="0.14">Stage_I</text>
<rect x="217.5" y="270.50" width="5.4" height="5.4" fill="#00008b"/>
<text x="225.0" y="276.1" font-size="8.5" fill="#2a2a2a" text-anchor="start" textLength="29.61" lengthAdjust="spacingAndGlyphs" stroke="#2a2a2a" stroke-width="0.14">Stage_II</text>
<rect x="217.5" y="279.00" width="5.4" height="5.4" fill="#ffa500"/>
<text x="225.0" y="284.6" font-size="8.5" fill="#2a2a2a" text-anchor="start" textLength="31.82" lengthAdjust="spacingAndGlyphs" stroke="#2a2a2a" stroke-width="0.14">Stage_III</text>
<rect x="217.5" y="287.50" width="5.4" height="5.4" fill="#ff0000"/>
<text x="225.0" y="293.1" font-size="8.5" fill="#2a2a2a" text-anchor="start" textLength="32.71" lengthAdjust="spacingAndGlyphs" stroke="#2a2a2a" stroke-width="0.14">Stage_IV</text>
<text x="217.8" y="310.0" font-size="8.0" fill="#111" text-anchor="start" font-weight="bold" textLength="64.8" lengthAdjust="spacingAndGlyphs" stroke="#111" stroke-width="0.3">histological_type</text>
<rect x="217.5" y="313.00" width="5.4" height="5.4" fill="#ff0000"/>
<text x="225.0" y="318.6" font-size="8.5" fill="#2a2a2a" text-anchor="start" textLength="46.84" lengthAdjust="spacingAndGlyphs" stroke="#2a2a2a" stroke-width="0.14">Endometrioid</text>
<rect x="217.5" y="321.50" width="5.4" height="5.4" fill="#00e000"/>
<text x="225.0" y="327.1" font-size="8.5" fill="#2a2a2a" text-anchor="start" textLength="21.21" lengthAdjust="spacingAndGlyphs" stroke="#2a2a2a" stroke-width="0.14">Mixed</text>
<rect x="217.5" y="330.00" width="5.4" height="5.4" fill="#0000ff"/>
<text x="225.0" y="335.6" font-size="8.5" fill="#2a2a2a" text-anchor="start" textLength="25.19" lengthAdjust="spacingAndGlyphs" stroke="#2a2a2a" stroke-width="0.14">Serous</text>
<text x="217.8" y="352.4" font-size="8.0" fill="#111" text-anchor="start" font-weight="bold" textLength="70.6" lengthAdjust="spacingAndGlyphs" stroke="#111" stroke-width="0.3">histological_grade</text>
<rect x="217.5" y="355.40" width="5.4" height="5.4" fill="#e41a1c"/>
<text x="225.0" y="361.0" font-size="8.5" fill="#2a2a2a" text-anchor="start" textLength="10.6" lengthAdjust="spacingAndGlyphs" stroke="#2a2a2a" stroke-width="0.14">G1</text>
<rect x="217.5" y="363.90" width="5.4" height="5.4" fill="#377eb8"/>
<text x="225.0" y="369.5" font-size="8.5" fill="#2a2a2a" text-anchor="start" textLength="10.6" lengthAdjust="spacingAndGlyphs" stroke="#2a2a2a" stroke-width="0.14">G2</text>
<rect x="217.5" y="372.40" width="5.4" height="5.4" fill="#4daf4a"/>
<text x="225.0" y="378.0" font-size="8.5" fill="#2a2a2a" text-anchor="start" textLength="10.6" lengthAdjust="spacingAndGlyphs" stroke="#2a2a2a" stroke-width="0.14">G3</text>
<rect x="217.5" y="380.90" width="5.4" height="5.4" fill="#984ea3"/>
<text x="225.0" y="386.5" font-size="8.5" fill="#2a2a2a" text-anchor="start" textLength="40.65" lengthAdjust="spacingAndGlyphs" stroke="#2a2a2a" stroke-width="0.14">High Grade</text>
<text x="296.3" y="225.6" font-size="8.8" fill="#111" text-anchor="start" font-weight="bold" textLength="78.7" lengthAdjust="spacingAndGlyphs" stroke="#111" stroke-width="0.22">(d) Survival analysis</text>
<rect x="323.7" y="230.6" width="222.90000000000003" height="157.9" fill="#fff" stroke="#a8a8a8" stroke-width="1"/>
<line x1="320.7" y1="382.90" x2="323.7" y2="382.90" stroke="#999" stroke-width="0.7"/>
<text x="317.6" y="385.29999999999995" font-size="6.6" fill="#333" text-anchor="end" stroke="#333" stroke-width="0.18">0.0</text>
<line x1="320.7" y1="352.96" x2="323.7" y2="352.96" stroke="#999" stroke-width="0.7"/>
<text x="317.6" y="355.35999999999996" font-size="6.6" fill="#333" text-anchor="end" stroke="#333" stroke-width="0.18">0.2</text>
<line x1="320.7" y1="323.02" x2="323.7" y2="323.02" stroke="#999" stroke-width="0.7"/>
<text x="317.6" y="325.41999999999996" font-size="6.6" fill="#333" text-anchor="end" stroke="#333" stroke-width="0.18">0.4</text>
<line x1="320.7" y1="293.08" x2="323.7" y2="293.08" stroke="#999" stroke-width="0.7"/>
<text x="317.6" y="295.47999999999996" font-size="6.6" fill="#333" text-anchor="end" stroke="#333" stroke-width="0.18">0.6</text>
<line x1="320.7" y1="263.14" x2="323.7" y2="263.14" stroke="#999" stroke-width="0.7"/>
<text x="317.6" y="265.53999999999996" font-size="6.6" fill="#333" text-anchor="end" stroke="#333" stroke-width="0.18">0.8</text>
<line x1="320.7" y1="233.20" x2="323.7" y2="233.20" stroke="#999" stroke-width="0.7"/>
<text x="317.6" y="235.6" font-size="6.6" fill="#333" text-anchor="end" stroke="#333" stroke-width="0.18">1.0</text>
<line x1="346.70" y1="388.5" x2="346.70" y2="391.5" stroke="#999" stroke-width="0.7"/>
<text x="346.70" y="400.6" font-size="6.6" fill="#333" text-anchor="middle" stroke="#333" stroke-width="0.18">2</text>
<line x1="376.14" y1="388.5" x2="376.14" y2="391.5" stroke="#999" stroke-width="0.7"/>
<text x="376.14" y="400.6" font-size="6.6" fill="#333" text-anchor="middle" stroke="#333" stroke-width="0.18">4</text>
<line x1="405.58" y1="388.5" x2="405.58" y2="391.5" stroke="#999" stroke-width="0.7"/>
<text x="405.58" y="400.6" font-size="6.6" fill="#333" text-anchor="middle" stroke="#333" stroke-width="0.18">6</text>
<line x1="435.02" y1="388.5" x2="435.02" y2="391.5" stroke="#999" stroke-width="0.7"/>
<text x="435.02" y="400.6" font-size="6.6" fill="#333" text-anchor="middle" stroke="#333" stroke-width="0.18">8</text>
<line x1="464.46" y1="388.5" x2="464.46" y2="391.5" stroke="#999" stroke-width="0.7"/>
<text x="464.46" y="400.6" font-size="6.6" fill="#333" text-anchor="middle" stroke="#333" stroke-width="0.18">10</text>
<line x1="493.90" y1="388.5" x2="493.90" y2="391.5" stroke="#999" stroke-width="0.7"/>
<text x="493.90" y="400.6" font-size="6.6" fill="#333" text-anchor="middle" stroke="#333" stroke-width="0.18">12</text>
<line x1="523.34" y1="388.5" x2="523.34" y2="391.5" stroke="#999" stroke-width="0.7"/>
<text x="523.34" y="400.6" font-size="6.6" fill="#333" text-anchor="middle" stroke="#333" stroke-width="0.18">14</text>
<text x="0" y="0" font-size="6.9" font-weight="bold" fill="#111" textLength="64.3" lengthAdjust="spacingAndGlyphs" stroke="#111" stroke-width="0.12" transform="translate(301.3 341.5) rotate(-90)">Survival Probability</text>
<text x="411.1" y="412.2" font-size="6.9" fill="#111" text-anchor="start" font-weight="bold" textLength="48.4" lengthAdjust="spacingAndGlyphs" stroke="#111" stroke-width="0.12">Time (in years)</text>
<text x="433.7" y="250.7" font-size="7.1" fill="#222" textLength="55.3" lengthAdjust="spacingAndGlyphs" stroke="#222" stroke-width="0.28">p-value = 3 × 10</text>
<text x="490" y="246.8" font-size="5.6" fill="#222" stroke="#222" stroke-width="0.2">−6</text>
<path d="M324.2,233.4 L330.20,233.40 L330.20,234.50 L332.35,234.50 L332.35,235.85 L334.50,235.85 L334.50,237.20 L341.80,237.20 L341.80,238.90 L349.10,238.90 L349.10,241.10 L356.40,241.10 L356.40,243.30 L358.55,243.30 L358.55,245.10 L360.70,245.10 L360.70,246.90 L362.17,246.90 L362.17,248.27 L363.63,248.27 L363.63,249.63 L365.10,249.63 L365.10,251.00 L367.30,251.00 L367.30,252.45 L369.50,252.45 L369.50,253.90 L373.80,253.90 L373.80,255.20 L392.40,255.20 L392.40,256.20 L406.90,256.20 L406.90,257.00 L407.35,257.00 L407.35,258.65 L407.80,258.65 L407.80,260.30 L455.3,260.3 L455.3,280.8 L538.6,280.8" fill="none" stroke="#f8766d" stroke-width="1.15"/>
<path d="M324.2,238.2 L328.70,238.20 L328.70,239.60 L329.80,239.60 L329.80,240.88 L330.90,240.88 L330.90,242.15 L332.00,242.15 L332.00,243.42 L333.10,243.42 L333.10,244.70 L334.07,244.70 L334.07,246.17 L335.03,246.17 L335.03,247.63 L336.00,247.63 L336.00,249.10 L338.90,249.10 L338.90,250.55 L341.80,250.55 L341.80,252.00 L342.90,252.00 L342.90,253.32 L344.00,253.32 L344.00,254.65 L345.10,254.65 L345.10,255.98 L346.20,255.98 L346.20,257.30 L347.55,257.30 L347.55,258.55 L348.90,258.55 L348.90,259.80 L350.25,259.80 L350.25,261.05 L351.60,261.05 L351.60,262.30 L352.83,262.30 L352.83,263.73 L354.07,263.73 L354.07,265.17 L355.30,265.17 L355.30,266.60 L355.74,266.60 L355.74,267.92 L356.18,267.92 L356.18,269.24 L356.62,269.24 L356.62,270.56 L357.06,270.56 L357.06,271.88 L357.50,271.88 L357.50,273.20 L366.20,273.20 L366.20,273.60 L373.50,273.60 L373.50,275.40 L374.47,275.40 L374.47,276.60 L375.43,276.60 L375.43,277.80 L376.40,277.80 L376.40,279.00 L377.83,279.00 L377.83,280.20 L379.27,280.20 L379.27,281.40 L380.70,281.40 L380.70,282.60 L388.0,282.6 L390.20,282.60 L390.20,284.80 L395.30,284.80 L395.30,286.30 L398.20,286.30 L398.20,287.50 L412.5,287.5 L412.5,291.4 L442.6,291.4 L442.6,299.6 L448.8,299.6 L448.8,308.4 L452.2,308.4 L452.2,317.1 L453.2,317.1 L453.2,326.8 L538.6,326.8" fill="none" stroke="#00bfc4" stroke-width="1.25"/>
<line x1="328.0" y1="232.5" x2="328.0" y2="235.7" stroke="#f8766d" stroke-width="0.9"/>
<line x1="331.0" y1="233.4" x2="331.0" y2="236.6" stroke="#f8766d" stroke-width="0.9"/>
<line x1="336.0" y1="235.9" x2="336.0" y2="239.1" stroke="#f8766d" stroke-width="0.9"/>
<line x1="340.0" y1="236.9" x2="340.0" y2="240.1" stroke="#f8766d" stroke-width="0.9"/>
<line x1="344.0" y1="238.0" x2="344.0" y2="241.2" stroke="#f8766d" stroke-width="0.9"/>
<line x1="349.0" y1="239.5" x2="349.0" y2="242.7" stroke="#f8766d" stroke-width="0.9"/>
<line x1="352.0" y1="240.4" x2="352.0" y2="243.6" stroke="#f8766d" stroke-width="0.9"/>
<line x1="357.0" y1="242.2" x2="357.0" y2="245.4" stroke="#f8766d" stroke-width="0.9"/>
<line x1="372.0" y1="253.1" x2="372.0" y2="256.3" stroke="#f8766d" stroke-width="0.9"/>
<line x1="376.0" y1="253.7" x2="376.0" y2="256.9" stroke="#f8766d" stroke-width="0.9"/>
<line x1="379.0" y1="253.9" x2="379.0" y2="257.1" stroke="#f8766d" stroke-width="0.9"/>
<line x1="381.0" y1="254.0" x2="381.0" y2="257.2" stroke="#f8766d" stroke-width="0.9"/>
<line x1="383.0" y1="254.1" x2="383.0" y2="257.3" stroke="#f8766d" stroke-width="0.9"/>
<line x1="385.0" y1="254.2" x2="385.0" y2="257.4" stroke="#f8766d" stroke-width="0.9"/>
<line x1="388.0" y1="254.4" x2="388.0" y2="257.6" stroke="#f8766d" stroke-width="0.9"/>
<line x1="391.0" y1="254.5" x2="391.0" y2="257.7" stroke="#f8766d" stroke-width="0.9"/>
<line x1="394.0" y1="254.7" x2="394.0" y2="257.9" stroke="#f8766d" stroke-width="0.9"/>
<line x1="397.0" y1="254.9" x2="397.0" y2="258.1" stroke="#f8766d" stroke-width="0.9"/>
<line x1="400.0" y1="255.0" x2="400.0" y2="258.2" stroke="#f8766d" stroke-width="0.9"/>
<line x1="404.0" y1="255.2" x2="404.0" y2="258.4" stroke="#f8766d" stroke-width="0.9"/>
<line x1="410.0" y1="258.7" x2="410.0" y2="261.9" stroke="#f8766d" stroke-width="0.9"/>
<line x1="412.0" y1="258.7" x2="412.0" y2="261.9" stroke="#f8766d" stroke-width="0.9"/>
<line x1="414.0" y1="258.7" x2="414.0" y2="261.9" stroke="#f8766d" stroke-width="0.9"/>
<line x1="416.0" y1="258.7" x2="416.0" y2="261.9" stroke="#f8766d" stroke-width="0.9"/>
<line x1="418.0" y1="258.7" x2="418.0" y2="261.9" stroke="#f8766d" stroke-width="0.9"/>
<line x1="420.0" y1="258.7" x2="420.0" y2="261.9" stroke="#f8766d" stroke-width="0.9"/>
<line x1="422.0" y1="258.7" x2="422.0" y2="261.9" stroke="#f8766d" stroke-width="0.9"/>
<line x1="425.0" y1="258.7" x2="425.0" y2="261.9" stroke="#f8766d" stroke-width="0.9"/>
<line x1="428.0" y1="258.7" x2="428.0" y2="261.9" stroke="#f8766d" stroke-width="0.9"/>
<line x1="431.0" y1="258.7" x2="431.0" y2="261.9" stroke="#f8766d" stroke-width="0.9"/>
<line x1="433.0" y1="258.7" x2="433.0" y2="261.9" stroke="#f8766d" stroke-width="0.9"/>
<line x1="447.0" y1="258.7" x2="447.0" y2="261.9" stroke="#f8766d" stroke-width="0.9"/>
<line x1="453.0" y1="258.7" x2="453.0" y2="261.9" stroke="#f8766d" stroke-width="0.9"/>
<line x1="457.6" y1="279.2" x2="457.6" y2="282.4" stroke="#f8766d" stroke-width="0.9"/>
<line x1="477.0" y1="279.2" x2="477.0" y2="282.4" stroke="#f8766d" stroke-width="0.9"/>
<line x1="485.6" y1="279.2" x2="485.6" y2="282.4" stroke="#f8766d" stroke-width="0.9"/>
<line x1="538.6" y1="279.2" x2="538.6" y2="282.4" stroke="#f8766d" stroke-width="0.9"/>
<line x1="330.0" y1="239.5" x2="330.0" y2="242.7" stroke="#00bfc4" stroke-width="0.9"/>
<line x1="337.0" y1="248.0" x2="337.0" y2="251.2" stroke="#00bfc4" stroke-width="0.9"/>
<line x1="340.0" y1="249.5" x2="340.0" y2="252.7" stroke="#00bfc4" stroke-width="0.9"/>
<line x1="343.0" y1="251.8" x2="343.0" y2="255.0" stroke="#00bfc4" stroke-width="0.9"/>
<line x1="350.0" y1="259.2" x2="350.0" y2="262.4" stroke="#00bfc4" stroke-width="0.9"/>
<line x1="360.0" y1="271.7" x2="360.0" y2="274.9" stroke="#00bfc4" stroke-width="0.9"/>
<line x1="362.0" y1="271.8" x2="362.0" y2="275.0" stroke="#00bfc4" stroke-width="0.9"/>
<line x1="364.0" y1="271.9" x2="364.0" y2="275.1" stroke="#00bfc4" stroke-width="0.9"/>
<line x1="366.0" y1="272.0" x2="366.0" y2="275.2" stroke="#00bfc4" stroke-width="0.9"/>
<line x1="368.0" y1="272.4" x2="368.0" y2="275.6" stroke="#00bfc4" stroke-width="0.9"/>
<line x1="370.0" y1="272.9" x2="370.0" y2="276.1" stroke="#00bfc4" stroke-width="0.9"/>
<line x1="384.0" y1="281.0" x2="384.0" y2="284.2" stroke="#00bfc4" stroke-width="0.9"/>
<line x1="386.0" y1="281.0" x2="386.0" y2="284.2" stroke="#00bfc4" stroke-width="0.9"/>
<line x1="393.0" y1="284.0" x2="393.0" y2="287.2" stroke="#00bfc4" stroke-width="0.9"/>
<line x1="396.0" y1="285.0" x2="396.0" y2="288.2" stroke="#00bfc4" stroke-width="0.9"/>
<line x1="399.0" y1="285.9" x2="399.0" y2="289.1" stroke="#00bfc4" stroke-width="0.9"/>
<line x1="401.0" y1="285.9" x2="401.0" y2="289.1" stroke="#00bfc4" stroke-width="0.9"/>
<line x1="403.0" y1="285.9" x2="403.0" y2="289.1" stroke="#00bfc4" stroke-width="0.9"/>
<line x1="405.0" y1="285.9" x2="405.0" y2="289.1" stroke="#00bfc4" stroke-width="0.9"/>
<line x1="407.0" y1="285.9" x2="407.0" y2="289.1" stroke="#00bfc4" stroke-width="0.9"/>
<line x1="410.0" y1="285.9" x2="410.0" y2="289.1" stroke="#00bfc4" stroke-width="0.9"/>
<line x1="415.0" y1="289.8" x2="415.0" y2="293.0" stroke="#00bfc4" stroke-width="0.9"/>
<line x1="418.0" y1="289.8" x2="418.0" y2="293.0" stroke="#00bfc4" stroke-width="0.9"/>
<line x1="421.0" y1="289.8" x2="421.0" y2="293.0" stroke="#00bfc4" stroke-width="0.9"/>
<line x1="425.0" y1="289.8" x2="425.0" y2="293.0" stroke="#00bfc4" stroke-width="0.9"/>
<line x1="428.0" y1="289.8" x2="428.0" y2="293.0" stroke="#00bfc4" stroke-width="0.9"/>
<line x1="431.0" y1="289.8" x2="431.0" y2="293.0" stroke="#00bfc4" stroke-width="0.9"/>
<line x1="434.0" y1="289.8" x2="434.0" y2="293.0" stroke="#00bfc4" stroke-width="0.9"/>
<line x1="437.0" y1="289.8" x2="437.0" y2="293.0" stroke="#00bfc4" stroke-width="0.9"/>
<line x1="440.0" y1="289.8" x2="440.0" y2="293.0" stroke="#00bfc4" stroke-width="0.9"/>
<line x1="462.3" y1="325.2" x2="462.3" y2="328.4" stroke="#00bfc4" stroke-width="0.9"/>
<line x1="469.9" y1="325.2" x2="469.9" y2="328.4" stroke="#00bfc4" stroke-width="0.9"/>
<line x1="471.4" y1="325.2" x2="471.4" y2="328.4" stroke="#00bfc4" stroke-width="0.9"/>
<line x1="501.2" y1="325.2" x2="501.2" y2="328.4" stroke="#00bfc4" stroke-width="0.9"/>
<line x1="538.6" y1="325.2" x2="538.6" y2="328.4" stroke="#00bfc4" stroke-width="0.9"/>
<rect x="332.5" y="352.6" width="86" height="25.7" fill="#fff" stroke="#a8a8a8" stroke-width="0.9"/>
<line x1="337.4" y1="361.4" x2="351.4" y2="361.4" stroke="#f8766d" stroke-width="1"/>
<line x1="337.4" y1="369.5" x2="351.4" y2="369.5" stroke="#00bfc4" stroke-width="1"/>
<text x="357.7" y="364.0" font-size="6.9" fill="#222" text-anchor="start" textLength="57.3" lengthAdjust="spacingAndGlyphs" stroke="#222" stroke-width="0.18">Subtype-1 (n=309)</text>
<text x="357.7" y="372.1" font-size="6.9" fill="#222" text-anchor="start" textLength="57.3" lengthAdjust="spacingAndGlyphs" stroke="#222" stroke-width="0.18">Subtype-2 (n=233)</text>
</svg></body></html>
